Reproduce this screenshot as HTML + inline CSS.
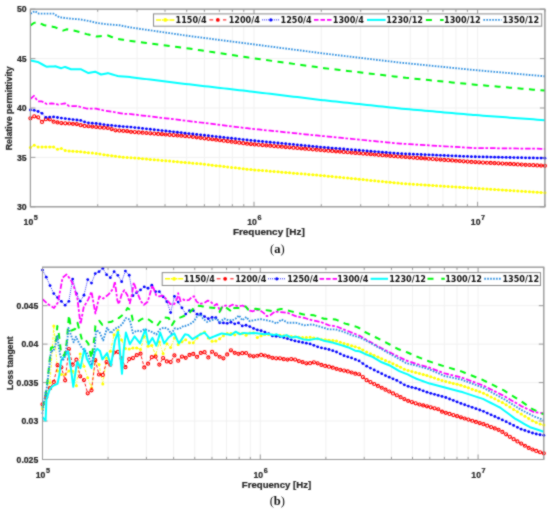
<!DOCTYPE html><html><head><meta charset="utf-8"><style>html,body{margin:0;padding:0;background:#fff;}svg{display:block;}.tl{font-family:"Liberation Sans",Arial,sans-serif;font-weight:bold;font-size:8.7px;fill:#262626;stroke:#262626;stroke-width:0.22px;}.ex{font-size:7.2px;}.lg{font-family:"DejaVu Sans",sans-serif;font-weight:bold;font-size:8.1px;fill:#111;}.al{font-family:"Liberation Sans",Arial,sans-serif;font-weight:bold;font-size:9.6px;fill:#262626;stroke:#262626;stroke-width:0.22px;}.cap{font-family:"Liberation Serif","Times New Roman",serif;font-weight:bold;font-size:12.5px;fill:#111;}</style></head><body>
<svg width="550" height="513" viewBox="0 0 550 513">
<defs><filter id="soft" x="0" y="0" width="550" height="513" filterUnits="userSpaceOnUse" color-interpolation-filters="sRGB"><feConvolveMatrix order="3" kernelMatrix="1 2 1 2 12 2 1 2 1" divisor="24" edgeMode="duplicate"/></filter></defs>
<g filter="url(#soft)">
<rect width="550" height="513" fill="#fff"/>
<path d="M97.71 9.20V206.80M137.08 9.20V206.80M165.02 9.20V206.80M186.69 9.20V206.80M204.39 9.20V206.80M219.36 9.20V206.80M232.33 9.20V206.80M243.77 9.20V206.80M254.00 9.20V206.80M321.31 9.20V206.80M360.68 9.20V206.80M388.62 9.20V206.80M410.29 9.20V206.80M427.99 9.20V206.80M442.96 9.20V206.80M455.93 9.20V206.80M467.37 9.20V206.80M477.60 9.20V206.80M30.40 157.40H544.90M30.40 108.00H544.90M30.40 58.60H544.90" stroke="#f1f1f1" stroke-width="1" fill="none"/>
<path d="M30.40 206.80v-5M30.40 9.20v5M97.71 206.80v-2.6M97.71 9.20v2.6M137.08 206.80v-2.6M137.08 9.20v2.6M165.02 206.80v-2.6M165.02 9.20v2.6M186.69 206.80v-2.6M186.69 9.20v2.6M204.39 206.80v-2.6M204.39 9.20v2.6M219.36 206.80v-2.6M219.36 9.20v2.6M232.33 206.80v-2.6M232.33 9.20v2.6M243.77 206.80v-2.6M243.77 9.20v2.6M254.00 206.80v-5M254.00 9.20v5M321.31 206.80v-2.6M321.31 9.20v2.6M360.68 206.80v-2.6M360.68 9.20v2.6M388.62 206.80v-2.6M388.62 9.20v2.6M410.29 206.80v-2.6M410.29 9.20v2.6M427.99 206.80v-2.6M427.99 9.20v2.6M442.96 206.80v-2.6M442.96 9.20v2.6M455.93 206.80v-2.6M455.93 9.20v2.6M467.37 206.80v-2.6M467.37 9.20v2.6M477.60 206.80v-5M477.60 9.20v5M544.91 206.80v-2.6M544.91 9.20v2.6M30.40 206.80h5M544.90 206.80h-5M30.40 157.40h5M544.90 157.40h-5M30.40 108.00h5M544.90 108.00h-5M30.40 58.60h5M544.90 58.60h-5M30.40 9.20h5M544.90 9.20h-5" stroke="#9a9a9a" stroke-width="1" fill="none"/>
<rect x="30.40" y="9.20" width="514.50" height="197.60" stroke="#9a9a9a" stroke-width="1" fill="none"/>
<g>
<path d="M30.40 147.50 L34.27 145.18 L38.14 146.90 L42.01 146.90 L45.87 146.90 L49.74 146.90 L53.61 147.02 L57.48 149.31 L61.35 148.58 L65.22 150.59 L69.08 151.11 L72.95 151.26 L76.82 151.40 L80.69 151.87 L84.56 152.33 L88.43 152.79 L92.29 153.09 L96.16 153.39 L100.03 154.03 L103.90 154.68 L107.77 155.16 L111.64 155.64 L115.51 156.14 L119.37 156.70 L123.24 157.25 L127.11 157.46 L130.98 157.69 L134.85 158.03 L138.72 158.37 L142.58 158.71 L146.45 159.06 L150.32 159.40 L154.19 159.74 L158.06 160.09 L161.93 160.43 L165.79 160.77 L169.66 161.11 L173.53 161.46 L177.40 161.80 L181.27 162.14 L185.14 162.48 L189.01 162.83 L192.87 163.17 L196.74 163.51 L200.61 163.87 L204.48 164.31 L208.35 164.75 L212.22 165.19 L216.08 165.63 L219.95 166.07 L223.82 166.52 L227.69 166.96 L231.56 167.40 L235.43 167.84 L239.29 168.28 L243.16 168.72 L247.03 169.16 L250.90 169.57 L254.77 169.90 L258.64 170.22 L262.51 170.54 L266.37 170.86 L270.24 171.19 L274.11 171.51 L277.98 171.83 L281.85 172.15 L285.72 172.48 L289.58 172.80 L293.45 173.13 L297.32 173.45 L301.19 173.77 L305.06 174.10 L308.93 174.42 L312.79 174.75 L316.66 175.07 L320.53 175.39 L324.40 175.74 L328.27 176.13 L332.14 176.51 L336.01 176.90 L339.87 177.29 L343.74 177.67 L347.61 178.06 L351.48 178.45 L355.35 178.83 L359.22 179.22 L363.08 179.61 L366.95 180.00 L370.82 180.38 L374.69 180.77 L378.56 181.16 L382.43 181.54 L386.29 181.93 L390.16 182.32 L394.03 182.70 L397.90 183.09 L401.77 183.41 L405.64 183.66 L409.51 183.91 L413.37 184.16 L417.24 184.41 L421.11 184.66 L424.98 184.91 L428.85 185.16 L432.72 185.41 L436.58 185.66 L440.45 185.90 L444.32 186.15 L448.19 186.40 L452.06 186.65 L455.93 186.90 L459.79 187.15 L463.66 187.40 L467.53 187.65 L471.40 187.90 L475.27 188.15 L479.14 188.40 L483.01 188.66 L486.87 188.91 L490.74 189.16 L494.61 189.42 L498.48 189.67 L502.35 189.92 L506.22 190.18 L510.08 190.43 L513.95 190.68 L517.82 190.94 L521.69 191.19 L525.56 191.45 L529.43 191.70 L533.29 191.95 L537.16 192.21 L541.03 192.46 L544.90 192.70" stroke="#ffff00" stroke-width="0.9" fill="none" stroke-linejoin="round" stroke-dasharray="3 1.5 1 1.5"/>
<g fill="#ffff00"><circle cx="30.40" cy="147.50" r="1.5"/><circle cx="34.27" cy="145.18" r="1.5"/><circle cx="38.14" cy="146.90" r="1.5"/><circle cx="42.01" cy="146.90" r="1.5"/><circle cx="45.87" cy="146.90" r="1.5"/><circle cx="49.74" cy="146.90" r="1.5"/><circle cx="53.61" cy="147.02" r="1.5"/><circle cx="57.48" cy="149.31" r="1.5"/><circle cx="61.35" cy="148.58" r="1.5"/><circle cx="65.22" cy="150.59" r="1.5"/><circle cx="69.08" cy="151.11" r="1.5"/><circle cx="72.95" cy="151.26" r="1.5"/><circle cx="76.82" cy="151.40" r="1.5"/><circle cx="80.69" cy="151.87" r="1.5"/><circle cx="84.56" cy="152.33" r="1.5"/><circle cx="88.43" cy="152.79" r="1.5"/><circle cx="92.29" cy="153.09" r="1.5"/><circle cx="96.16" cy="153.39" r="1.5"/><circle cx="100.03" cy="154.03" r="1.5"/><circle cx="103.90" cy="154.68" r="1.5"/><circle cx="107.77" cy="155.16" r="1.5"/><circle cx="111.64" cy="155.64" r="1.5"/><circle cx="115.51" cy="156.14" r="1.5"/><circle cx="119.37" cy="156.70" r="1.5"/><circle cx="123.24" cy="157.25" r="1.5"/><circle cx="127.11" cy="157.46" r="1.5"/><circle cx="130.98" cy="157.69" r="1.5"/><circle cx="134.85" cy="158.03" r="1.5"/><circle cx="138.72" cy="158.37" r="1.5"/><circle cx="142.58" cy="158.71" r="1.5"/><circle cx="146.45" cy="159.06" r="1.5"/><circle cx="150.32" cy="159.40" r="1.5"/><circle cx="154.19" cy="159.74" r="1.5"/><circle cx="158.06" cy="160.09" r="1.5"/><circle cx="161.93" cy="160.43" r="1.5"/><circle cx="165.79" cy="160.77" r="1.5"/><circle cx="169.66" cy="161.11" r="1.5"/><circle cx="173.53" cy="161.46" r="1.5"/><circle cx="177.40" cy="161.80" r="1.5"/><circle cx="181.27" cy="162.14" r="1.5"/><circle cx="185.14" cy="162.48" r="1.5"/><circle cx="189.01" cy="162.83" r="1.5"/><circle cx="192.87" cy="163.17" r="1.5"/><circle cx="196.74" cy="163.51" r="1.5"/><circle cx="200.61" cy="163.87" r="1.5"/><circle cx="204.48" cy="164.31" r="1.5"/><circle cx="208.35" cy="164.75" r="1.5"/><circle cx="212.22" cy="165.19" r="1.5"/><circle cx="216.08" cy="165.63" r="1.5"/><circle cx="219.95" cy="166.07" r="1.5"/><circle cx="223.82" cy="166.52" r="1.5"/><circle cx="227.69" cy="166.96" r="1.5"/><circle cx="231.56" cy="167.40" r="1.5"/><circle cx="235.43" cy="167.84" r="1.5"/><circle cx="239.29" cy="168.28" r="1.5"/><circle cx="243.16" cy="168.72" r="1.5"/><circle cx="247.03" cy="169.16" r="1.5"/><circle cx="250.90" cy="169.57" r="1.5"/><circle cx="254.77" cy="169.90" r="1.5"/><circle cx="258.64" cy="170.22" r="1.5"/><circle cx="262.51" cy="170.54" r="1.5"/><circle cx="266.37" cy="170.86" r="1.5"/><circle cx="270.24" cy="171.19" r="1.5"/><circle cx="274.11" cy="171.51" r="1.5"/><circle cx="277.98" cy="171.83" r="1.5"/><circle cx="281.85" cy="172.15" r="1.5"/><circle cx="285.72" cy="172.48" r="1.5"/><circle cx="289.58" cy="172.80" r="1.5"/><circle cx="293.45" cy="173.13" r="1.5"/><circle cx="297.32" cy="173.45" r="1.5"/><circle cx="301.19" cy="173.77" r="1.5"/><circle cx="305.06" cy="174.10" r="1.5"/><circle cx="308.93" cy="174.42" r="1.5"/><circle cx="312.79" cy="174.75" r="1.5"/><circle cx="316.66" cy="175.07" r="1.5"/><circle cx="320.53" cy="175.39" r="1.5"/><circle cx="324.40" cy="175.74" r="1.5"/><circle cx="328.27" cy="176.13" r="1.5"/><circle cx="332.14" cy="176.51" r="1.5"/><circle cx="336.01" cy="176.90" r="1.5"/><circle cx="339.87" cy="177.29" r="1.5"/><circle cx="343.74" cy="177.67" r="1.5"/><circle cx="347.61" cy="178.06" r="1.5"/><circle cx="351.48" cy="178.45" r="1.5"/><circle cx="355.35" cy="178.83" r="1.5"/><circle cx="359.22" cy="179.22" r="1.5"/><circle cx="363.08" cy="179.61" r="1.5"/><circle cx="366.95" cy="180.00" r="1.5"/><circle cx="370.82" cy="180.38" r="1.5"/><circle cx="374.69" cy="180.77" r="1.5"/><circle cx="378.56" cy="181.16" r="1.5"/><circle cx="382.43" cy="181.54" r="1.5"/><circle cx="386.29" cy="181.93" r="1.5"/><circle cx="390.16" cy="182.32" r="1.5"/><circle cx="394.03" cy="182.70" r="1.5"/><circle cx="397.90" cy="183.09" r="1.5"/><circle cx="401.77" cy="183.41" r="1.5"/><circle cx="405.64" cy="183.66" r="1.5"/><circle cx="409.51" cy="183.91" r="1.5"/><circle cx="413.37" cy="184.16" r="1.5"/><circle cx="417.24" cy="184.41" r="1.5"/><circle cx="421.11" cy="184.66" r="1.5"/><circle cx="424.98" cy="184.91" r="1.5"/><circle cx="428.85" cy="185.16" r="1.5"/><circle cx="432.72" cy="185.41" r="1.5"/><circle cx="436.58" cy="185.66" r="1.5"/><circle cx="440.45" cy="185.90" r="1.5"/><circle cx="444.32" cy="186.15" r="1.5"/><circle cx="448.19" cy="186.40" r="1.5"/><circle cx="452.06" cy="186.65" r="1.5"/><circle cx="455.93" cy="186.90" r="1.5"/><circle cx="459.79" cy="187.15" r="1.5"/><circle cx="463.66" cy="187.40" r="1.5"/><circle cx="467.53" cy="187.65" r="1.5"/><circle cx="471.40" cy="187.90" r="1.5"/><circle cx="475.27" cy="188.15" r="1.5"/><circle cx="479.14" cy="188.40" r="1.5"/><circle cx="483.01" cy="188.66" r="1.5"/><circle cx="486.87" cy="188.91" r="1.5"/><circle cx="490.74" cy="189.16" r="1.5"/><circle cx="494.61" cy="189.42" r="1.5"/><circle cx="498.48" cy="189.67" r="1.5"/><circle cx="502.35" cy="189.92" r="1.5"/><circle cx="506.22" cy="190.18" r="1.5"/><circle cx="510.08" cy="190.43" r="1.5"/><circle cx="513.95" cy="190.68" r="1.5"/><circle cx="517.82" cy="190.94" r="1.5"/><circle cx="521.69" cy="191.19" r="1.5"/><circle cx="525.56" cy="191.45" r="1.5"/><circle cx="529.43" cy="191.70" r="1.5"/><circle cx="533.29" cy="191.95" r="1.5"/><circle cx="537.16" cy="192.21" r="1.5"/><circle cx="541.03" cy="192.46" r="1.5"/><circle cx="544.90" cy="192.70" r="1.5"/></g>
<path d="M30.40 118.30 L34.27 116.36 L38.14 117.36 L42.01 121.97 L45.87 119.20 L49.74 119.35 L53.61 121.64 L57.48 122.38 L61.35 123.11 L65.22 123.31 L69.08 123.51 L72.95 123.80 L76.82 124.11 L80.69 125.17 L84.56 125.88 L88.43 126.24 L92.29 126.59 L96.16 126.99 L100.03 127.38 L103.90 127.68 L107.77 127.98 L111.64 129.12 L115.51 130.31 L119.37 130.58 L123.24 130.78 L127.11 131.19 L130.98 131.78 L134.85 132.08 L138.72 132.39 L142.58 132.69 L146.45 132.99 L150.32 133.30 L154.19 133.60 L158.06 133.91 L161.93 134.21 L165.79 134.51 L169.66 134.82 L173.53 135.12 L177.40 135.43 L181.27 135.73 L185.14 136.04 L189.01 136.36 L192.87 136.85 L196.74 137.33 L200.61 137.82 L204.48 138.30 L208.35 138.78 L212.22 139.27 L216.08 139.75 L219.95 140.24 L223.82 140.72 L227.69 141.21 L231.56 141.69 L235.43 142.18 L239.29 142.66 L243.16 143.14 L247.03 143.63 L250.90 144.08 L254.77 144.40 L258.64 144.73 L262.51 145.06 L266.37 145.39 L270.24 145.72 L274.11 146.05 L277.98 146.38 L281.85 146.70 L285.72 147.03 L289.58 147.36 L293.45 147.69 L297.32 148.02 L301.19 148.35 L305.06 148.68 L308.93 149.00 L312.79 149.33 L316.66 149.66 L320.53 149.99 L324.40 150.32 L328.27 150.64 L332.14 150.96 L336.01 151.28 L339.87 151.60 L343.74 151.92 L347.61 152.25 L351.48 152.57 L355.35 152.89 L359.22 153.21 L363.08 153.53 L366.95 153.85 L370.82 154.17 L374.69 154.50 L378.56 154.82 L382.43 155.14 L386.29 155.46 L390.16 155.78 L394.03 156.10 L397.90 156.43 L401.77 156.73 L405.64 157.02 L409.51 157.30 L413.37 157.59 L417.24 157.88 L421.11 158.16 L424.98 158.45 L428.85 158.73 L432.72 159.02 L436.58 159.31 L440.45 159.59 L444.32 159.88 L448.19 160.16 L452.06 160.45 L455.93 160.74 L459.79 161.02 L463.66 161.31 L467.53 161.60 L471.40 161.88 L475.27 162.12 L479.14 162.33 L483.01 162.53 L486.87 162.74 L490.74 162.94 L494.61 163.15 L498.48 163.35 L502.35 163.56 L506.22 163.76 L510.08 163.97 L513.95 164.17 L517.82 164.38 L521.69 164.58 L525.56 164.79 L529.43 164.99 L533.29 165.20 L537.16 165.40 L541.03 165.61 L544.90 165.80" stroke="#ff0000" stroke-width="0.9" fill="none" stroke-linejoin="round" stroke-dasharray="3 2"/>
<g fill="none" stroke="#ff0000" stroke-width="1.1"><circle cx="30.40" cy="118.30" r="1.55"/><circle cx="34.27" cy="116.36" r="1.55"/><circle cx="38.14" cy="117.36" r="1.55"/><circle cx="42.01" cy="121.97" r="1.55"/><circle cx="45.87" cy="119.20" r="1.55"/><circle cx="49.74" cy="119.35" r="1.55"/><circle cx="53.61" cy="121.64" r="1.55"/><circle cx="57.48" cy="122.38" r="1.55"/><circle cx="61.35" cy="123.11" r="1.55"/><circle cx="65.22" cy="123.31" r="1.55"/><circle cx="69.08" cy="123.51" r="1.55"/><circle cx="72.95" cy="123.80" r="1.55"/><circle cx="76.82" cy="124.11" r="1.55"/><circle cx="80.69" cy="125.17" r="1.55"/><circle cx="84.56" cy="125.88" r="1.55"/><circle cx="88.43" cy="126.24" r="1.55"/><circle cx="92.29" cy="126.59" r="1.55"/><circle cx="96.16" cy="126.99" r="1.55"/><circle cx="100.03" cy="127.38" r="1.55"/><circle cx="103.90" cy="127.68" r="1.55"/><circle cx="107.77" cy="127.98" r="1.55"/><circle cx="111.64" cy="129.12" r="1.55"/><circle cx="115.51" cy="130.31" r="1.55"/><circle cx="119.37" cy="130.58" r="1.55"/><circle cx="123.24" cy="130.78" r="1.55"/><circle cx="127.11" cy="131.19" r="1.55"/><circle cx="130.98" cy="131.78" r="1.55"/><circle cx="134.85" cy="132.08" r="1.55"/><circle cx="138.72" cy="132.39" r="1.55"/><circle cx="142.58" cy="132.69" r="1.55"/><circle cx="146.45" cy="132.99" r="1.55"/><circle cx="150.32" cy="133.30" r="1.55"/><circle cx="154.19" cy="133.60" r="1.55"/><circle cx="158.06" cy="133.91" r="1.55"/><circle cx="161.93" cy="134.21" r="1.55"/><circle cx="165.79" cy="134.51" r="1.55"/><circle cx="169.66" cy="134.82" r="1.55"/><circle cx="173.53" cy="135.12" r="1.55"/><circle cx="177.40" cy="135.43" r="1.55"/><circle cx="181.27" cy="135.73" r="1.55"/><circle cx="185.14" cy="136.04" r="1.55"/><circle cx="189.01" cy="136.36" r="1.55"/><circle cx="192.87" cy="136.85" r="1.55"/><circle cx="196.74" cy="137.33" r="1.55"/><circle cx="200.61" cy="137.82" r="1.55"/><circle cx="204.48" cy="138.30" r="1.55"/><circle cx="208.35" cy="138.78" r="1.55"/><circle cx="212.22" cy="139.27" r="1.55"/><circle cx="216.08" cy="139.75" r="1.55"/><circle cx="219.95" cy="140.24" r="1.55"/><circle cx="223.82" cy="140.72" r="1.55"/><circle cx="227.69" cy="141.21" r="1.55"/><circle cx="231.56" cy="141.69" r="1.55"/><circle cx="235.43" cy="142.18" r="1.55"/><circle cx="239.29" cy="142.66" r="1.55"/><circle cx="243.16" cy="143.14" r="1.55"/><circle cx="247.03" cy="143.63" r="1.55"/><circle cx="250.90" cy="144.08" r="1.55"/><circle cx="254.77" cy="144.40" r="1.55"/><circle cx="258.64" cy="144.73" r="1.55"/><circle cx="262.51" cy="145.06" r="1.55"/><circle cx="266.37" cy="145.39" r="1.55"/><circle cx="270.24" cy="145.72" r="1.55"/><circle cx="274.11" cy="146.05" r="1.55"/><circle cx="277.98" cy="146.38" r="1.55"/><circle cx="281.85" cy="146.70" r="1.55"/><circle cx="285.72" cy="147.03" r="1.55"/><circle cx="289.58" cy="147.36" r="1.55"/><circle cx="293.45" cy="147.69" r="1.55"/><circle cx="297.32" cy="148.02" r="1.55"/><circle cx="301.19" cy="148.35" r="1.55"/><circle cx="305.06" cy="148.68" r="1.55"/><circle cx="308.93" cy="149.00" r="1.55"/><circle cx="312.79" cy="149.33" r="1.55"/><circle cx="316.66" cy="149.66" r="1.55"/><circle cx="320.53" cy="149.99" r="1.55"/><circle cx="324.40" cy="150.32" r="1.55"/><circle cx="328.27" cy="150.64" r="1.55"/><circle cx="332.14" cy="150.96" r="1.55"/><circle cx="336.01" cy="151.28" r="1.55"/><circle cx="339.87" cy="151.60" r="1.55"/><circle cx="343.74" cy="151.92" r="1.55"/><circle cx="347.61" cy="152.25" r="1.55"/><circle cx="351.48" cy="152.57" r="1.55"/><circle cx="355.35" cy="152.89" r="1.55"/><circle cx="359.22" cy="153.21" r="1.55"/><circle cx="363.08" cy="153.53" r="1.55"/><circle cx="366.95" cy="153.85" r="1.55"/><circle cx="370.82" cy="154.17" r="1.55"/><circle cx="374.69" cy="154.50" r="1.55"/><circle cx="378.56" cy="154.82" r="1.55"/><circle cx="382.43" cy="155.14" r="1.55"/><circle cx="386.29" cy="155.46" r="1.55"/><circle cx="390.16" cy="155.78" r="1.55"/><circle cx="394.03" cy="156.10" r="1.55"/><circle cx="397.90" cy="156.43" r="1.55"/><circle cx="401.77" cy="156.73" r="1.55"/><circle cx="405.64" cy="157.02" r="1.55"/><circle cx="409.51" cy="157.30" r="1.55"/><circle cx="413.37" cy="157.59" r="1.55"/><circle cx="417.24" cy="157.88" r="1.55"/><circle cx="421.11" cy="158.16" r="1.55"/><circle cx="424.98" cy="158.45" r="1.55"/><circle cx="428.85" cy="158.73" r="1.55"/><circle cx="432.72" cy="159.02" r="1.55"/><circle cx="436.58" cy="159.31" r="1.55"/><circle cx="440.45" cy="159.59" r="1.55"/><circle cx="444.32" cy="159.88" r="1.55"/><circle cx="448.19" cy="160.16" r="1.55"/><circle cx="452.06" cy="160.45" r="1.55"/><circle cx="455.93" cy="160.74" r="1.55"/><circle cx="459.79" cy="161.02" r="1.55"/><circle cx="463.66" cy="161.31" r="1.55"/><circle cx="467.53" cy="161.60" r="1.55"/><circle cx="471.40" cy="161.88" r="1.55"/><circle cx="475.27" cy="162.12" r="1.55"/><circle cx="479.14" cy="162.33" r="1.55"/><circle cx="483.01" cy="162.53" r="1.55"/><circle cx="486.87" cy="162.74" r="1.55"/><circle cx="490.74" cy="162.94" r="1.55"/><circle cx="494.61" cy="163.15" r="1.55"/><circle cx="498.48" cy="163.35" r="1.55"/><circle cx="502.35" cy="163.56" r="1.55"/><circle cx="506.22" cy="163.76" r="1.55"/><circle cx="510.08" cy="163.97" r="1.55"/><circle cx="513.95" cy="164.17" r="1.55"/><circle cx="517.82" cy="164.38" r="1.55"/><circle cx="521.69" cy="164.58" r="1.55"/><circle cx="525.56" cy="164.79" r="1.55"/><circle cx="529.43" cy="164.99" r="1.55"/><circle cx="533.29" cy="165.20" r="1.55"/><circle cx="537.16" cy="165.40" r="1.55"/><circle cx="541.03" cy="165.61" r="1.55"/><circle cx="544.90" cy="165.80" r="1.55"/></g>
<path d="M30.40 110.00 L34.27 110.36 L38.14 111.49 L42.01 113.34 L45.87 117.29 L49.74 117.09 L53.61 116.93 L57.48 117.49 L61.35 118.06 L65.22 118.59 L69.08 119.10 L72.95 119.61 L76.82 120.00 L80.69 120.40 L84.56 121.93 L88.43 122.86 L92.29 123.17 L96.16 123.49 L100.03 124.01 L103.90 124.54 L107.77 125.07 L111.64 125.47 L115.51 125.87 L119.37 126.27 L123.24 126.54 L127.11 126.80 L130.98 127.11 L134.85 127.54 L138.72 127.97 L142.58 128.40 L146.45 128.83 L150.32 129.26 L154.19 129.69 L158.06 130.12 L161.93 130.55 L165.79 130.98 L169.66 131.41 L173.53 131.84 L177.40 132.27 L181.27 132.70 L185.14 133.13 L189.01 133.56 L192.87 133.98 L196.74 134.41 L200.61 134.84 L204.48 135.27 L208.35 135.69 L212.22 136.12 L216.08 136.55 L219.95 136.98 L223.82 137.41 L227.69 137.83 L231.56 138.26 L235.43 138.69 L239.29 139.12 L243.16 139.54 L247.03 139.97 L250.90 140.39 L254.77 140.76 L258.64 141.13 L262.51 141.50 L266.37 141.87 L270.24 142.24 L274.11 142.61 L277.98 142.98 L281.85 143.35 L285.72 143.72 L289.58 144.10 L293.45 144.47 L297.32 144.84 L301.19 145.21 L305.06 145.58 L308.93 145.95 L312.79 146.32 L316.66 146.69 L320.53 147.06 L324.40 147.41 L328.27 147.73 L332.14 148.05 L336.01 148.36 L339.87 148.68 L343.74 149.00 L347.61 149.31 L351.48 149.63 L355.35 149.95 L359.22 150.26 L363.08 150.58 L366.95 150.90 L370.82 151.21 L374.69 151.53 L378.56 151.85 L382.43 152.16 L386.29 152.48 L390.16 152.80 L394.03 153.11 L397.90 153.43 L401.77 153.68 L405.64 153.84 L409.51 154.00 L413.37 154.17 L417.24 154.33 L421.11 154.50 L424.98 154.66 L428.85 154.83 L432.72 154.99 L436.58 155.15 L440.45 155.32 L444.32 155.48 L448.19 155.65 L452.06 155.81 L455.93 155.97 L459.79 156.14 L463.66 156.30 L467.53 156.47 L471.40 156.63 L475.27 156.75 L479.14 156.83 L483.01 156.91 L486.87 156.99 L490.74 157.07 L494.61 157.15 L498.48 157.23 L502.35 157.31 L506.22 157.39 L510.08 157.48 L513.95 157.56 L517.82 157.64 L521.69 157.72 L525.56 157.80 L529.43 157.88 L533.29 157.96 L537.16 158.04 L541.03 158.12 L544.90 158.20" stroke="#0000ff" stroke-width="0.8" fill="none" stroke-linejoin="round" stroke-dasharray="1 1"/>
<g fill="#0000ff"><circle cx="30.40" cy="110.00" r="1.4"/><circle cx="34.27" cy="110.36" r="1.4"/><circle cx="38.14" cy="111.49" r="1.4"/><circle cx="42.01" cy="113.34" r="1.4"/><circle cx="45.87" cy="117.29" r="1.4"/><circle cx="49.74" cy="117.09" r="1.4"/><circle cx="53.61" cy="116.93" r="1.4"/><circle cx="57.48" cy="117.49" r="1.4"/><circle cx="61.35" cy="118.06" r="1.4"/><circle cx="65.22" cy="118.59" r="1.4"/><circle cx="69.08" cy="119.10" r="1.4"/><circle cx="72.95" cy="119.61" r="1.4"/><circle cx="76.82" cy="120.00" r="1.4"/><circle cx="80.69" cy="120.40" r="1.4"/><circle cx="84.56" cy="121.93" r="1.4"/><circle cx="88.43" cy="122.86" r="1.4"/><circle cx="92.29" cy="123.17" r="1.4"/><circle cx="96.16" cy="123.49" r="1.4"/><circle cx="100.03" cy="124.01" r="1.4"/><circle cx="103.90" cy="124.54" r="1.4"/><circle cx="107.77" cy="125.07" r="1.4"/><circle cx="111.64" cy="125.47" r="1.4"/><circle cx="115.51" cy="125.87" r="1.4"/><circle cx="119.37" cy="126.27" r="1.4"/><circle cx="123.24" cy="126.54" r="1.4"/><circle cx="127.11" cy="126.80" r="1.4"/><circle cx="130.98" cy="127.11" r="1.4"/><circle cx="134.85" cy="127.54" r="1.4"/><circle cx="138.72" cy="127.97" r="1.4"/><circle cx="142.58" cy="128.40" r="1.4"/><circle cx="146.45" cy="128.83" r="1.4"/><circle cx="150.32" cy="129.26" r="1.4"/><circle cx="154.19" cy="129.69" r="1.4"/><circle cx="158.06" cy="130.12" r="1.4"/><circle cx="161.93" cy="130.55" r="1.4"/><circle cx="165.79" cy="130.98" r="1.4"/><circle cx="169.66" cy="131.41" r="1.4"/><circle cx="173.53" cy="131.84" r="1.4"/><circle cx="177.40" cy="132.27" r="1.4"/><circle cx="181.27" cy="132.70" r="1.4"/><circle cx="185.14" cy="133.13" r="1.4"/><circle cx="189.01" cy="133.56" r="1.4"/><circle cx="192.87" cy="133.98" r="1.4"/><circle cx="196.74" cy="134.41" r="1.4"/><circle cx="200.61" cy="134.84" r="1.4"/><circle cx="204.48" cy="135.27" r="1.4"/><circle cx="208.35" cy="135.69" r="1.4"/><circle cx="212.22" cy="136.12" r="1.4"/><circle cx="216.08" cy="136.55" r="1.4"/><circle cx="219.95" cy="136.98" r="1.4"/><circle cx="223.82" cy="137.41" r="1.4"/><circle cx="227.69" cy="137.83" r="1.4"/><circle cx="231.56" cy="138.26" r="1.4"/><circle cx="235.43" cy="138.69" r="1.4"/><circle cx="239.29" cy="139.12" r="1.4"/><circle cx="243.16" cy="139.54" r="1.4"/><circle cx="247.03" cy="139.97" r="1.4"/><circle cx="250.90" cy="140.39" r="1.4"/><circle cx="254.77" cy="140.76" r="1.4"/><circle cx="258.64" cy="141.13" r="1.4"/><circle cx="262.51" cy="141.50" r="1.4"/><circle cx="266.37" cy="141.87" r="1.4"/><circle cx="270.24" cy="142.24" r="1.4"/><circle cx="274.11" cy="142.61" r="1.4"/><circle cx="277.98" cy="142.98" r="1.4"/><circle cx="281.85" cy="143.35" r="1.4"/><circle cx="285.72" cy="143.72" r="1.4"/><circle cx="289.58" cy="144.10" r="1.4"/><circle cx="293.45" cy="144.47" r="1.4"/><circle cx="297.32" cy="144.84" r="1.4"/><circle cx="301.19" cy="145.21" r="1.4"/><circle cx="305.06" cy="145.58" r="1.4"/><circle cx="308.93" cy="145.95" r="1.4"/><circle cx="312.79" cy="146.32" r="1.4"/><circle cx="316.66" cy="146.69" r="1.4"/><circle cx="320.53" cy="147.06" r="1.4"/><circle cx="324.40" cy="147.41" r="1.4"/><circle cx="328.27" cy="147.73" r="1.4"/><circle cx="332.14" cy="148.05" r="1.4"/><circle cx="336.01" cy="148.36" r="1.4"/><circle cx="339.87" cy="148.68" r="1.4"/><circle cx="343.74" cy="149.00" r="1.4"/><circle cx="347.61" cy="149.31" r="1.4"/><circle cx="351.48" cy="149.63" r="1.4"/><circle cx="355.35" cy="149.95" r="1.4"/><circle cx="359.22" cy="150.26" r="1.4"/><circle cx="363.08" cy="150.58" r="1.4"/><circle cx="366.95" cy="150.90" r="1.4"/><circle cx="370.82" cy="151.21" r="1.4"/><circle cx="374.69" cy="151.53" r="1.4"/><circle cx="378.56" cy="151.85" r="1.4"/><circle cx="382.43" cy="152.16" r="1.4"/><circle cx="386.29" cy="152.48" r="1.4"/><circle cx="390.16" cy="152.80" r="1.4"/><circle cx="394.03" cy="153.11" r="1.4"/><circle cx="397.90" cy="153.43" r="1.4"/><circle cx="401.77" cy="153.68" r="1.4"/><circle cx="405.64" cy="153.84" r="1.4"/><circle cx="409.51" cy="154.00" r="1.4"/><circle cx="413.37" cy="154.17" r="1.4"/><circle cx="417.24" cy="154.33" r="1.4"/><circle cx="421.11" cy="154.50" r="1.4"/><circle cx="424.98" cy="154.66" r="1.4"/><circle cx="428.85" cy="154.83" r="1.4"/><circle cx="432.72" cy="154.99" r="1.4"/><circle cx="436.58" cy="155.15" r="1.4"/><circle cx="440.45" cy="155.32" r="1.4"/><circle cx="444.32" cy="155.48" r="1.4"/><circle cx="448.19" cy="155.65" r="1.4"/><circle cx="452.06" cy="155.81" r="1.4"/><circle cx="455.93" cy="155.97" r="1.4"/><circle cx="459.79" cy="156.14" r="1.4"/><circle cx="463.66" cy="156.30" r="1.4"/><circle cx="467.53" cy="156.47" r="1.4"/><circle cx="471.40" cy="156.63" r="1.4"/><circle cx="475.27" cy="156.75" r="1.4"/><circle cx="479.14" cy="156.83" r="1.4"/><circle cx="483.01" cy="156.91" r="1.4"/><circle cx="486.87" cy="156.99" r="1.4"/><circle cx="490.74" cy="157.07" r="1.4"/><circle cx="494.61" cy="157.15" r="1.4"/><circle cx="498.48" cy="157.23" r="1.4"/><circle cx="502.35" cy="157.31" r="1.4"/><circle cx="506.22" cy="157.39" r="1.4"/><circle cx="510.08" cy="157.48" r="1.4"/><circle cx="513.95" cy="157.56" r="1.4"/><circle cx="517.82" cy="157.64" r="1.4"/><circle cx="521.69" cy="157.72" r="1.4"/><circle cx="525.56" cy="157.80" r="1.4"/><circle cx="529.43" cy="157.88" r="1.4"/><circle cx="533.29" cy="157.96" r="1.4"/><circle cx="537.16" cy="158.04" r="1.4"/><circle cx="541.03" cy="158.12" r="1.4"/><circle cx="544.90" cy="158.20" r="1.4"/></g>
<path d="M30.40 98.80 L30.50 98.80 L33.90 95.80 L34.27 96.32 L37.80 101.30 L38.14 101.30 L41.70 101.30 L42.01 101.47 L45.87 103.60 L46.60 104.00 L49.74 103.54 L51.40 103.30 L53.61 103.72 L57.48 104.45 L58.30 104.60 L61.35 104.01 L65.00 103.30 L65.22 103.45 L69.00 106.00 L69.08 106.00 L72.95 106.00 L76.80 106.00 L76.82 106.01 L80.69 107.00 L84.56 108.00 L86.50 108.50 L88.43 108.50 L92.29 108.50 L95.30 108.50 L96.16 108.70 L100.03 109.59 L103.90 110.48 L104.00 110.50 L107.77 111.08 L111.64 111.67 L113.80 112.00 L115.51 112.31 L119.37 113.02 L123.24 113.73 L123.60 113.80 L127.11 113.91 L130.00 114.00 L130.98 114.12 L134.85 114.58 L138.72 115.04 L142.58 115.51 L146.45 115.97 L150.32 116.43 L154.19 116.89 L158.06 117.36 L161.93 117.82 L165.79 118.28 L169.66 118.75 L173.53 119.21 L177.40 119.67 L181.27 120.13 L185.14 120.60 L188.50 121.00 L189.01 121.06 L192.87 121.54 L196.74 122.02 L200.61 122.50 L204.48 122.97 L208.35 123.45 L212.22 123.93 L216.08 124.41 L219.95 124.89 L223.82 125.36 L227.69 125.84 L231.56 126.32 L235.43 126.80 L239.29 127.28 L243.16 127.76 L247.03 128.23 L250.00 128.60 L250.90 128.69 L254.77 129.09 L258.64 129.49 L262.51 129.88 L266.37 130.28 L270.24 130.68 L274.11 131.08 L277.98 131.47 L281.85 131.87 L285.72 132.27 L289.58 132.67 L293.45 133.06 L297.32 133.46 L301.19 133.86 L305.06 134.26 L308.93 134.65 L312.79 135.05 L316.66 135.45 L320.53 135.85 L323.00 136.10 L324.40 136.24 L328.27 136.61 L332.14 136.99 L336.01 137.37 L339.87 137.74 L343.74 138.12 L347.61 138.50 L351.48 138.87 L355.35 139.25 L359.22 139.63 L363.08 140.00 L366.95 140.38 L370.82 140.76 L374.69 141.13 L378.56 141.51 L382.43 141.89 L386.29 142.27 L390.16 142.64 L394.03 143.02 L397.90 143.40 L400.00 143.60 L401.77 143.71 L405.64 143.94 L409.51 144.17 L413.37 144.41 L417.24 144.64 L421.11 144.87 L424.98 145.11 L428.85 145.34 L432.72 145.57 L436.58 145.81 L440.45 146.04 L444.32 146.27 L448.19 146.50 L452.06 146.74 L455.93 146.97 L459.79 147.20 L463.66 147.44 L467.53 147.67 L471.40 147.90 L473.00 148.00 L475.27 148.03 L479.14 148.07 L483.01 148.11 L486.87 148.15 L490.74 148.20 L494.61 148.24 L498.48 148.28 L502.35 148.33 L506.22 148.37 L510.08 148.41 L513.95 148.46 L517.82 148.50 L521.69 148.54 L525.56 148.59 L529.43 148.63 L533.29 148.67 L537.16 148.72 L541.03 148.76 L544.70 148.80 L544.90 148.80" stroke="#ff00ff" stroke-width="1.75" fill="none" stroke-linejoin="round" stroke-dasharray="5.5 1.6 2.7 1.9"/>
<path d="M30.40 60.40 L30.50 60.40 L34.27 61.23 L37.80 62.00 L38.14 62.18 L42.01 64.25 L45.87 66.31 L46.60 66.70 L49.74 66.56 L53.61 66.38 L55.30 66.30 L57.48 67.00 L61.20 68.20 L61.35 68.15 L65.00 66.90 L65.22 66.98 L69.08 68.47 L71.00 69.20 L72.95 69.20 L76.82 69.20 L80.69 69.20 L80.70 69.20 L84.56 71.13 L88.43 73.06 L88.50 73.10 L92.29 72.32 L95.30 71.70 L96.16 72.12 L100.03 74.02 L101.00 74.50 L103.90 73.92 L107.77 73.15 L108.00 73.10 L111.64 74.19 L115.51 75.34 L117.70 76.00 L119.37 76.15 L123.24 76.50 L127.11 76.84 L130.00 77.10 L130.98 77.22 L134.85 77.70 L138.72 78.17 L142.58 78.65 L146.45 79.12 L150.32 79.60 L154.19 80.08 L158.06 80.55 L161.93 81.03 L165.79 81.51 L169.66 81.98 L173.53 82.46 L177.40 82.93 L181.27 83.41 L185.14 83.89 L188.50 84.30 L189.01 84.36 L192.87 84.80 L196.74 85.25 L200.61 85.70 L204.48 86.14 L208.35 86.59 L212.22 87.04 L216.08 87.48 L219.95 87.93 L223.82 88.38 L227.69 88.82 L231.56 89.27 L235.43 89.72 L239.29 90.16 L243.16 90.61 L247.03 91.06 L250.00 91.40 L250.90 91.51 L254.77 91.97 L258.64 92.44 L262.51 92.91 L266.37 93.37 L270.24 93.84 L274.11 94.31 L277.98 94.77 L281.85 95.24 L285.72 95.71 L289.58 96.17 L293.45 96.64 L297.32 97.10 L301.19 97.57 L305.06 98.04 L308.93 98.50 L312.79 98.97 L316.66 99.44 L320.53 99.90 L323.00 100.20 L324.40 100.35 L328.27 100.77 L332.14 101.18 L336.01 101.60 L339.87 102.02 L343.74 102.44 L347.61 102.85 L351.48 103.27 L355.35 103.69 L359.22 104.10 L363.08 104.52 L366.95 104.94 L370.82 105.35 L374.69 105.77 L378.56 106.19 L382.43 106.61 L386.29 107.02 L390.16 107.44 L394.03 107.86 L397.90 108.27 L400.00 108.50 L401.77 108.66 L405.64 108.99 L409.51 109.33 L413.37 109.67 L417.24 110.01 L421.11 110.35 L424.98 110.69 L428.85 111.03 L432.72 111.37 L436.58 111.71 L440.45 112.05 L444.32 112.39 L448.19 112.72 L452.06 113.06 L455.93 113.40 L459.79 113.74 L463.66 114.08 L467.53 114.42 L471.40 114.76 L473.00 114.90 L475.27 115.07 L479.14 115.35 L483.01 115.64 L486.87 115.93 L490.74 116.21 L494.61 116.50 L498.48 116.78 L502.35 117.07 L506.22 117.36 L510.08 117.64 L513.95 117.93 L517.82 118.21 L521.69 118.50 L525.56 118.79 L529.43 119.07 L533.29 119.36 L537.16 119.64 L541.03 119.93 L544.70 120.20 L544.90 120.20" stroke="#00ffff" stroke-width="2.0" fill="none" stroke-linejoin="round"/>
<path d="M30.40 25.30 L30.50 25.30 L33.90 23.00 L34.27 22.90 L37.50 22.00 L38.14 22.31 L42.01 24.22 L43.60 25.00 L45.87 25.45 L49.74 26.21 L53.61 26.97 L55.30 27.30 L57.48 28.23 L61.35 29.89 L63.00 30.60 L65.22 29.82 L67.00 29.20 L69.08 29.63 L72.95 30.41 L76.80 31.20 L76.82 31.21 L80.69 32.36 L84.56 33.52 L86.50 34.10 L88.43 34.57 L92.29 35.52 L96.16 36.47 L96.30 36.50 L100.03 36.18 L103.90 35.85 L107.77 35.52 L108.00 35.50 L111.64 36.95 L115.51 38.48 L115.80 38.60 L119.37 39.15 L123.24 39.75 L127.11 40.35 L130.00 40.80 L130.98 40.93 L134.85 41.44 L138.72 41.95 L142.58 42.46 L146.45 42.97 L150.32 43.47 L154.19 43.98 L158.06 44.49 L161.93 45.00 L165.79 45.51 L169.66 46.02 L173.53 46.53 L177.40 47.04 L181.27 47.55 L185.14 48.06 L188.50 48.50 L189.01 48.58 L192.87 49.16 L196.74 49.74 L200.61 50.32 L204.48 50.90 L208.35 51.48 L212.22 52.06 L216.08 52.64 L219.95 53.23 L223.82 53.81 L227.69 54.39 L231.56 54.97 L235.43 55.55 L239.29 56.13 L243.16 56.71 L247.03 57.29 L250.90 57.87 L254.40 58.40 L254.77 58.45 L258.64 58.99 L262.51 59.53 L266.37 60.08 L270.24 60.62 L274.11 61.16 L277.98 61.70 L281.85 62.24 L285.72 62.78 L289.58 63.32 L293.45 63.87 L297.32 64.41 L301.19 64.95 L305.06 65.49 L308.93 66.03 L312.79 66.57 L316.66 67.11 L320.53 67.65 L323.00 68.00 L324.40 68.17 L328.27 68.62 L332.14 69.08 L336.01 69.54 L339.87 70.00 L343.74 70.45 L347.61 70.91 L351.48 71.37 L355.35 71.83 L359.22 72.29 L363.08 72.74 L366.95 73.20 L370.82 73.66 L374.69 74.12 L378.56 74.58 L382.43 75.03 L386.29 75.49 L390.16 75.95 L394.03 76.41 L397.90 76.86 L401.77 77.32 L405.64 77.78 L405.80 77.80 L409.51 78.17 L413.37 78.56 L417.24 78.94 L421.11 79.33 L424.98 79.71 L428.85 80.10 L432.72 80.48 L436.58 80.87 L440.45 81.25 L444.32 81.64 L448.19 82.03 L452.06 82.41 L455.93 82.80 L459.79 83.18 L463.66 83.57 L467.53 83.95 L471.40 84.34 L473.00 84.50 L475.27 84.69 L479.14 85.02 L483.01 85.35 L486.87 85.68 L490.74 86.01 L494.61 86.34 L498.48 86.67 L502.35 87.00 L506.22 87.33 L510.08 87.66 L513.95 87.98 L517.82 88.31 L521.69 88.64 L525.56 88.97 L529.43 89.30 L533.29 89.63 L537.16 89.96 L541.03 90.29 L544.70 90.60 L544.90 90.60" stroke="#00f810" stroke-width="2.0" fill="none" stroke-linejoin="round" stroke-dasharray="6 5.5"/>
<path d="M30.40 13.60 L30.50 13.60 L34.27 11.46 L34.90 11.10 L38.14 13.17 L38.80 13.60 L42.01 13.60 L45.87 13.60 L49.74 13.60 L53.40 13.60 L53.61 13.73 L57.48 16.13 L59.20 17.20 L61.35 17.48 L65.22 18.00 L69.00 18.50 L69.08 18.51 L72.95 18.84 L76.82 19.17 L80.69 19.50 L80.70 19.50 L84.56 20.19 L88.43 20.89 L88.50 20.90 L92.29 21.81 L96.16 22.73 L97.30 23.00 L100.03 23.36 L103.90 23.86 L107.77 24.37 L108.00 24.40 L111.64 24.68 L115.51 24.98 L119.37 25.27 L119.70 25.30 L123.24 26.02 L127.11 26.81 L130.00 27.40 L130.98 27.54 L134.85 28.10 L138.72 28.67 L142.58 29.23 L146.45 29.79 L150.32 30.35 L154.19 30.91 L158.06 31.48 L161.93 32.04 L165.79 32.60 L169.66 33.16 L173.53 33.73 L177.40 34.29 L181.27 34.85 L185.14 35.41 L188.50 35.90 L189.01 35.97 L192.87 36.47 L196.74 36.97 L200.61 37.48 L204.48 37.98 L208.35 38.48 L212.22 38.98 L216.08 39.49 L219.95 39.99 L223.82 40.49 L227.69 41.00 L231.56 41.50 L235.43 42.00 L239.29 42.51 L243.16 43.01 L247.03 43.51 L250.00 43.90 L250.90 44.02 L254.77 44.52 L258.64 45.02 L262.51 45.53 L266.37 46.03 L270.24 46.53 L274.11 47.04 L277.98 47.54 L281.85 48.04 L285.72 48.55 L289.58 49.05 L293.45 49.55 L297.32 50.06 L301.19 50.56 L305.06 51.07 L308.93 51.57 L312.79 52.07 L316.66 52.58 L320.53 53.08 L323.00 53.40 L324.40 53.57 L328.27 54.03 L332.14 54.49 L336.01 54.95 L339.87 55.42 L343.74 55.88 L347.61 56.34 L351.48 56.80 L355.35 57.26 L359.22 57.73 L363.08 58.19 L366.95 58.65 L370.82 59.11 L374.69 59.58 L378.56 60.04 L382.43 60.50 L386.29 60.96 L390.16 61.42 L394.03 61.89 L397.90 62.35 L400.00 62.60 L401.77 62.78 L405.64 63.16 L409.51 63.55 L413.37 63.94 L417.24 64.32 L421.11 64.71 L424.98 65.10 L428.85 65.48 L432.72 65.87 L436.58 66.26 L440.45 66.65 L444.32 67.03 L448.19 67.42 L452.06 67.81 L455.93 68.19 L459.79 68.58 L463.66 68.97 L467.53 69.35 L471.40 69.74 L473.00 69.90 L475.27 70.10 L479.14 70.45 L483.01 70.79 L486.87 71.14 L490.74 71.48 L494.61 71.83 L498.48 72.17 L502.35 72.52 L506.22 72.86 L510.08 73.21 L513.95 73.56 L517.82 73.90 L521.69 74.25 L525.56 74.59 L529.43 74.94 L533.29 75.28 L537.16 75.63 L541.03 75.97 L544.70 76.30 L544.90 76.30" stroke="#2b8ee0" stroke-width="1.9" fill="none" stroke-linejoin="round" stroke-dasharray="1.6 1.35"/>
</g>
<rect x="30.40" y="9.20" width="514.50" height="197.60" stroke="#9a9a9a" stroke-width="1" fill="none"/>
<rect x="153.50" y="13.90" width="388.20" height="12.30" fill="#fff" stroke="#8a8a8a" stroke-width="1"/>
<path d="M156.10 19.9h5M161.90 19.9h1.6M167.00 19.9h1.6M169.40 19.9H174.40" stroke="#ffff00" stroke-width="1.5"/>
<circle cx="165.25" cy="19.9" r="1.9" fill="#ffff00"/>
<text x="175.50" y="22.60" class="lg">1150/4</text>
<path d="M209.40 19.9h3.8M223.00 19.9H226.30" stroke="#ff0000" stroke-width="1"/>
<circle cx="217.85" cy="19.9" r="1.9" fill="#ff0000"/>
<text x="228.70" y="22.60" class="lg">1200/4</text>
<path d="M262.10 19.9H279.50" stroke="#0000ff" stroke-width="0.9" stroke-dasharray="1 1"/>
<circle cx="270.80" cy="19.9" r="1.6" fill="#0000ff"/>
<text x="280.50" y="22.60" class="lg">1250/4</text>
<path d="M314.00 19.9h4.5M320.50 19.9h4.5M327.00 19.9H331.50" stroke="#ff00ff" stroke-width="1.75"/>
<text x="332.80" y="22.60" class="lg">1300/4</text>
<path d="M367.00 19.9H385.60" stroke="#00ffff" stroke-width="2.0"/>
<text x="386.20" y="22.60" class="lg">1230/12</text>
<path d="M425.90 19.9H431.90M440.10 19.9H443.60" stroke="#00f810" stroke-width="2.0"/>
<text x="444.00" y="22.60" class="lg">1300/12</text>
<path d="M483.40 19.9H501.60" stroke="#2b8ee0" stroke-width="1.9" stroke-dasharray="1.6 1.35"/>
<text x="502.40" y="22.60" class="lg">1350/12</text>
<text x="26.60" y="209.90" text-anchor="end" class="tl">30</text>
<text x="26.60" y="160.50" text-anchor="end" class="tl">35</text>
<text x="26.60" y="111.10" text-anchor="end" class="tl">40</text>
<text x="26.60" y="61.70" text-anchor="end" class="tl">45</text>
<text x="26.60" y="12.30" text-anchor="end" class="tl">50</text>
<text x="23.60" y="225.30" class="tl">10<tspan class="ex" dx="0.6" dy="-5">5</tspan></text>
<text x="247.20" y="225.30" class="tl">10<tspan class="ex" dx="0.6" dy="-5">6</tspan></text>
<text x="470.80" y="225.30" class="tl">10<tspan class="ex" dx="0.6" dy="-5">7</tspan></text>
<text class="al" style="font-size:8.85px" transform="translate(11.5,108.3) rotate(-90)" text-anchor="middle">Relative permittivity</text>
<text class="al" style="font-size:9.95px" x="268.8" y="234.9" text-anchor="middle">Frequency [Hz]</text>
<text class="cap" x="277.4" y="252.9" text-anchor="middle"><tspan font-weight="normal">(</tspan>a<tspan font-weight="normal">)</tspan></text>
<path d="M108.06 267.20V459.50M146.42 267.20V459.50M173.63 267.20V459.50M194.74 267.20V459.50M211.98 267.20V459.50M226.56 267.20V459.50M239.19 267.20V459.50M250.33 267.20V459.50M260.30 267.20V459.50M325.86 267.20V459.50M364.22 267.20V459.50M391.43 267.20V459.50M412.54 267.20V459.50M429.78 267.20V459.50M444.36 267.20V459.50M456.99 267.20V459.50M468.13 267.20V459.50M478.10 267.20V459.50M42.50 421.04H543.80M42.50 382.58H543.80M42.50 344.12H543.80M42.50 305.66H543.80" stroke="#f1f1f1" stroke-width="1" fill="none"/>
<path d="M42.50 459.50v-5M42.50 267.20v5M108.06 459.50v-2.6M108.06 267.20v2.6M146.42 459.50v-2.6M146.42 267.20v2.6M173.63 459.50v-2.6M173.63 267.20v2.6M194.74 459.50v-2.6M194.74 267.20v2.6M211.98 459.50v-2.6M211.98 267.20v2.6M226.56 459.50v-2.6M226.56 267.20v2.6M239.19 459.50v-2.6M239.19 267.20v2.6M250.33 459.50v-2.6M250.33 267.20v2.6M260.30 459.50v-5M260.30 267.20v5M325.86 459.50v-2.6M325.86 267.20v2.6M364.22 459.50v-2.6M364.22 267.20v2.6M391.43 459.50v-2.6M391.43 267.20v2.6M412.54 459.50v-2.6M412.54 267.20v2.6M429.78 459.50v-2.6M429.78 267.20v2.6M444.36 459.50v-2.6M444.36 267.20v2.6M456.99 459.50v-2.6M456.99 267.20v2.6M468.13 459.50v-2.6M468.13 267.20v2.6M478.10 459.50v-5M478.10 267.20v5M543.66 459.50v-2.6M543.66 267.20v2.6M42.50 459.50h5M543.80 459.50h-5M42.50 421.04h5M543.80 421.04h-5M42.50 382.58h5M543.80 382.58h-5M42.50 344.12h5M543.80 344.12h-5M42.50 305.66h5M543.80 305.66h-5" stroke="#9a9a9a" stroke-width="1" fill="none"/>
<rect x="42.50" y="267.20" width="501.30" height="192.30" stroke="#9a9a9a" stroke-width="1" fill="none"/>
<g>
<path d="M42.50 408.68 L46.27 397.06 L50.04 382.78 L53.81 326.10 L57.58 371.07 L61.35 374.54 L65.12 374.58 L68.88 370.91 L72.65 371.15 L76.42 385.77 L80.19 354.05 L83.96 366.37 L87.73 377.81 L91.50 388.00 L95.27 360.82 L99.04 364.41 L102.81 384.01 L106.58 358.20 L110.35 351.32 L114.11 334.71 L117.88 330.30 L121.65 340.01 L125.42 348.52 L129.19 349.04 L132.96 348.05 L136.73 347.91 L140.50 349.51 L144.27 336.62 L148.04 346.36 L151.81 345.58 L155.58 354.89 L159.34 342.02 L163.11 353.70 L166.88 343.86 L170.65 347.44 L174.42 338.11 L178.19 344.50 L181.96 341.66 L185.73 339.71 L189.50 342.86 L193.27 342.79 L197.04 337.92 L200.81 333.99 L204.57 332.08 L208.34 338.10 L212.11 341.27 L215.88 340.98 L219.65 338.70 L223.42 335.71 L227.19 333.52 L230.96 333.52 L234.73 334.67 L238.50 333.36 L242.27 333.56 L246.04 335.24 L249.80 332.96 L253.57 332.72 L257.34 337.53 L261.11 335.63 L264.88 334.51 L268.65 334.50 L272.42 335.01 L276.19 335.07 L279.96 335.29 L283.73 335.71 L287.50 336.09 L291.27 336.42 L295.03 336.76 L298.80 337.17 L302.57 337.59 L306.34 337.42 L310.11 337.24 L313.88 337.93 L317.65 338.85 L321.42 339.43 L325.19 339.79 L328.96 340.16 L332.73 340.53 L336.50 341.11 L340.26 342.27 L344.03 343.43 L347.80 344.58 L351.57 345.73 L355.34 346.84 L359.11 347.94 L362.88 349.98 L366.65 352.11 L370.42 353.78 L374.19 355.45 L377.96 357.12 L381.73 358.78 L385.49 360.41 L389.26 362.05 L393.03 363.68 L396.80 365.41 L400.57 367.31 L404.34 369.21 L408.11 370.55 L411.88 371.48 L415.65 372.41 L419.42 373.46 L423.19 374.53 L426.96 375.60 L430.72 376.76 L434.49 377.98 L438.26 379.21 L442.03 380.44 L445.80 381.60 L449.57 382.51 L453.34 383.43 L457.11 384.35 L460.88 385.27 L464.65 386.53 L468.42 387.85 L472.19 389.16 L475.95 390.48 L479.72 391.79 L483.49 393.20 L487.26 395.08 L491.03 396.97 L494.80 398.85 L498.57 400.73 L502.34 402.62 L506.11 404.72 L509.88 407.07 L513.65 409.41 L517.42 411.76 L521.18 414.10 L524.95 416.32 L528.72 418.53 L532.49 420.74 L536.26 422.53 L540.03 423.93 L543.80 425.00" stroke="#ffff00" stroke-width="0.9" fill="none" stroke-linejoin="round" stroke-dasharray="3 1.5 1 1.5"/>
<g fill="#ffff00"><circle cx="42.50" cy="408.68" r="1.5"/><circle cx="46.27" cy="397.06" r="1.5"/><circle cx="50.04" cy="382.78" r="1.5"/><circle cx="53.81" cy="326.10" r="1.5"/><circle cx="57.58" cy="371.07" r="1.5"/><circle cx="61.35" cy="374.54" r="1.5"/><circle cx="65.12" cy="374.58" r="1.5"/><circle cx="68.88" cy="370.91" r="1.5"/><circle cx="72.65" cy="371.15" r="1.5"/><circle cx="76.42" cy="385.77" r="1.5"/><circle cx="80.19" cy="354.05" r="1.5"/><circle cx="83.96" cy="366.37" r="1.5"/><circle cx="87.73" cy="377.81" r="1.5"/><circle cx="91.50" cy="388.00" r="1.5"/><circle cx="95.27" cy="360.82" r="1.5"/><circle cx="99.04" cy="364.41" r="1.5"/><circle cx="102.81" cy="384.01" r="1.5"/><circle cx="106.58" cy="358.20" r="1.5"/><circle cx="110.35" cy="351.32" r="1.5"/><circle cx="114.11" cy="334.71" r="1.5"/><circle cx="117.88" cy="330.30" r="1.5"/><circle cx="121.65" cy="340.01" r="1.5"/><circle cx="125.42" cy="348.52" r="1.5"/><circle cx="129.19" cy="349.04" r="1.5"/><circle cx="132.96" cy="348.05" r="1.5"/><circle cx="136.73" cy="347.91" r="1.5"/><circle cx="140.50" cy="349.51" r="1.5"/><circle cx="144.27" cy="336.62" r="1.5"/><circle cx="148.04" cy="346.36" r="1.5"/><circle cx="151.81" cy="345.58" r="1.5"/><circle cx="155.58" cy="354.89" r="1.5"/><circle cx="159.34" cy="342.02" r="1.5"/><circle cx="163.11" cy="353.70" r="1.5"/><circle cx="166.88" cy="343.86" r="1.5"/><circle cx="170.65" cy="347.44" r="1.5"/><circle cx="174.42" cy="338.11" r="1.5"/><circle cx="178.19" cy="344.50" r="1.5"/><circle cx="181.96" cy="341.66" r="1.5"/><circle cx="185.73" cy="339.71" r="1.5"/><circle cx="189.50" cy="342.86" r="1.5"/><circle cx="193.27" cy="342.79" r="1.5"/><circle cx="197.04" cy="337.92" r="1.5"/><circle cx="200.81" cy="333.99" r="1.5"/><circle cx="204.57" cy="332.08" r="1.5"/><circle cx="208.34" cy="338.10" r="1.5"/><circle cx="212.11" cy="341.27" r="1.5"/><circle cx="215.88" cy="340.98" r="1.5"/><circle cx="219.65" cy="338.70" r="1.5"/><circle cx="223.42" cy="335.71" r="1.5"/><circle cx="227.19" cy="333.52" r="1.5"/><circle cx="230.96" cy="333.52" r="1.5"/><circle cx="234.73" cy="334.67" r="1.5"/><circle cx="238.50" cy="333.36" r="1.5"/><circle cx="242.27" cy="333.56" r="1.5"/><circle cx="246.04" cy="335.24" r="1.5"/><circle cx="249.80" cy="332.96" r="1.5"/><circle cx="253.57" cy="332.72" r="1.5"/><circle cx="257.34" cy="337.53" r="1.5"/><circle cx="261.11" cy="335.63" r="1.5"/><circle cx="264.88" cy="334.51" r="1.5"/><circle cx="268.65" cy="334.50" r="1.5"/><circle cx="272.42" cy="335.01" r="1.5"/><circle cx="276.19" cy="335.07" r="1.5"/><circle cx="279.96" cy="335.29" r="1.5"/><circle cx="283.73" cy="335.71" r="1.5"/><circle cx="287.50" cy="336.09" r="1.5"/><circle cx="291.27" cy="336.42" r="1.5"/><circle cx="295.03" cy="336.76" r="1.5"/><circle cx="298.80" cy="337.17" r="1.5"/><circle cx="302.57" cy="337.59" r="1.5"/><circle cx="306.34" cy="337.42" r="1.5"/><circle cx="310.11" cy="337.24" r="1.5"/><circle cx="313.88" cy="337.93" r="1.5"/><circle cx="317.65" cy="338.85" r="1.5"/><circle cx="321.42" cy="339.43" r="1.5"/><circle cx="325.19" cy="339.79" r="1.5"/><circle cx="328.96" cy="340.16" r="1.5"/><circle cx="332.73" cy="340.53" r="1.5"/><circle cx="336.50" cy="341.11" r="1.5"/><circle cx="340.26" cy="342.27" r="1.5"/><circle cx="344.03" cy="343.43" r="1.5"/><circle cx="347.80" cy="344.58" r="1.5"/><circle cx="351.57" cy="345.73" r="1.5"/><circle cx="355.34" cy="346.84" r="1.5"/><circle cx="359.11" cy="347.94" r="1.5"/><circle cx="362.88" cy="349.98" r="1.5"/><circle cx="366.65" cy="352.11" r="1.5"/><circle cx="370.42" cy="353.78" r="1.5"/><circle cx="374.19" cy="355.45" r="1.5"/><circle cx="377.96" cy="357.12" r="1.5"/><circle cx="381.73" cy="358.78" r="1.5"/><circle cx="385.49" cy="360.41" r="1.5"/><circle cx="389.26" cy="362.05" r="1.5"/><circle cx="393.03" cy="363.68" r="1.5"/><circle cx="396.80" cy="365.41" r="1.5"/><circle cx="400.57" cy="367.31" r="1.5"/><circle cx="404.34" cy="369.21" r="1.5"/><circle cx="408.11" cy="370.55" r="1.5"/><circle cx="411.88" cy="371.48" r="1.5"/><circle cx="415.65" cy="372.41" r="1.5"/><circle cx="419.42" cy="373.46" r="1.5"/><circle cx="423.19" cy="374.53" r="1.5"/><circle cx="426.96" cy="375.60" r="1.5"/><circle cx="430.72" cy="376.76" r="1.5"/><circle cx="434.49" cy="377.98" r="1.5"/><circle cx="438.26" cy="379.21" r="1.5"/><circle cx="442.03" cy="380.44" r="1.5"/><circle cx="445.80" cy="381.60" r="1.5"/><circle cx="449.57" cy="382.51" r="1.5"/><circle cx="453.34" cy="383.43" r="1.5"/><circle cx="457.11" cy="384.35" r="1.5"/><circle cx="460.88" cy="385.27" r="1.5"/><circle cx="464.65" cy="386.53" r="1.5"/><circle cx="468.42" cy="387.85" r="1.5"/><circle cx="472.19" cy="389.16" r="1.5"/><circle cx="475.95" cy="390.48" r="1.5"/><circle cx="479.72" cy="391.79" r="1.5"/><circle cx="483.49" cy="393.20" r="1.5"/><circle cx="487.26" cy="395.08" r="1.5"/><circle cx="491.03" cy="396.97" r="1.5"/><circle cx="494.80" cy="398.85" r="1.5"/><circle cx="498.57" cy="400.73" r="1.5"/><circle cx="502.34" cy="402.62" r="1.5"/><circle cx="506.11" cy="404.72" r="1.5"/><circle cx="509.88" cy="407.07" r="1.5"/><circle cx="513.65" cy="409.41" r="1.5"/><circle cx="517.42" cy="411.76" r="1.5"/><circle cx="521.18" cy="414.10" r="1.5"/><circle cx="524.95" cy="416.32" r="1.5"/><circle cx="528.72" cy="418.53" r="1.5"/><circle cx="532.49" cy="420.74" r="1.5"/><circle cx="536.26" cy="422.53" r="1.5"/><circle cx="540.03" cy="423.93" r="1.5"/><circle cx="543.80" cy="425.00" r="1.5"/></g>
<path d="M42.50 404.25 L46.27 397.27 L50.04 388.20 L53.81 381.90 L57.58 365.14 L61.35 367.35 L65.12 380.28 L68.88 349.02 L72.65 364.68 L76.42 359.71 L80.19 376.32 L83.96 380.07 L87.73 393.35 L91.50 390.30 L95.27 360.15 L99.04 374.50 L102.81 374.92 L106.58 362.10 L110.35 364.68 L114.11 352.52 L117.88 351.78 L121.65 358.38 L125.42 367.16 L129.19 359.10 L132.96 358.05 L136.73 355.17 L140.50 353.71 L144.27 367.43 L148.04 363.64 L151.81 357.22 L155.58 356.53 L159.34 364.56 L163.11 358.06 L166.88 361.38 L170.65 362.10 L174.42 355.46 L178.19 360.68 L181.96 356.61 L185.73 357.83 L189.50 354.92 L193.27 353.94 L197.04 356.84 L200.81 352.91 L204.57 352.20 L208.34 357.46 L212.11 351.76 L215.88 354.28 L219.65 356.77 L223.42 358.36 L227.19 354.41 L230.96 350.36 L234.73 352.83 L238.50 353.80 L242.27 353.16 L246.04 353.00 L249.80 355.60 L253.57 356.30 L257.34 355.75 L261.11 354.95 L264.88 355.50 L268.65 356.66 L272.42 357.84 L276.19 358.35 L279.96 358.36 L283.73 359.15 L287.50 359.55 L291.27 359.03 L295.03 359.61 L298.80 361.04 L302.57 362.21 L306.34 363.33 L310.11 363.16 L313.88 362.34 L317.65 363.28 L321.42 364.96 L325.19 365.95 L328.96 366.70 L332.73 367.68 L336.50 368.83 L340.26 369.81 L344.03 370.54 L347.80 371.38 L351.57 372.52 L355.34 373.64 L359.11 374.25 L362.88 377.12 L366.65 380.18 L370.42 382.08 L374.19 383.98 L377.96 385.88 L381.73 387.76 L385.49 389.65 L389.26 391.52 L393.03 393.39 L396.80 395.25 L400.57 397.15 L404.34 399.05 L408.11 400.87 L411.88 402.11 L415.65 403.36 L419.42 404.50 L423.19 405.43 L426.96 406.37 L430.72 407.32 L434.49 408.29 L438.26 409.26 L442.03 411.71 L445.80 412.84 L449.57 413.96 L453.34 415.09 L457.11 416.22 L460.88 417.34 L464.65 418.48 L468.42 419.62 L472.19 420.76 L475.95 421.90 L479.72 423.04 L483.49 424.22 L487.26 425.63 L491.03 427.04 L494.80 428.45 L498.57 429.86 L502.34 431.91 L506.11 434.35 L509.88 436.79 L513.65 439.22 L517.42 441.47 L521.18 443.60 L524.95 445.74 L528.72 447.88 L532.49 449.51 L536.26 450.88 L540.03 452.25 L543.80 453.30" stroke="#ff0000" stroke-width="0.9" fill="none" stroke-linejoin="round" stroke-dasharray="3 2"/>
<g fill="none" stroke="#ff0000" stroke-width="1.1"><circle cx="42.50" cy="404.25" r="1.55"/><circle cx="46.27" cy="397.27" r="1.55"/><circle cx="50.04" cy="388.20" r="1.55"/><circle cx="53.81" cy="381.90" r="1.55"/><circle cx="57.58" cy="365.14" r="1.55"/><circle cx="61.35" cy="367.35" r="1.55"/><circle cx="65.12" cy="380.28" r="1.55"/><circle cx="68.88" cy="349.02" r="1.55"/><circle cx="72.65" cy="364.68" r="1.55"/><circle cx="76.42" cy="359.71" r="1.55"/><circle cx="80.19" cy="376.32" r="1.55"/><circle cx="83.96" cy="380.07" r="1.55"/><circle cx="87.73" cy="393.35" r="1.55"/><circle cx="91.50" cy="390.30" r="1.55"/><circle cx="95.27" cy="360.15" r="1.55"/><circle cx="99.04" cy="374.50" r="1.55"/><circle cx="102.81" cy="374.92" r="1.55"/><circle cx="106.58" cy="362.10" r="1.55"/><circle cx="110.35" cy="364.68" r="1.55"/><circle cx="114.11" cy="352.52" r="1.55"/><circle cx="117.88" cy="351.78" r="1.55"/><circle cx="121.65" cy="358.38" r="1.55"/><circle cx="125.42" cy="367.16" r="1.55"/><circle cx="129.19" cy="359.10" r="1.55"/><circle cx="132.96" cy="358.05" r="1.55"/><circle cx="136.73" cy="355.17" r="1.55"/><circle cx="140.50" cy="353.71" r="1.55"/><circle cx="144.27" cy="367.43" r="1.55"/><circle cx="148.04" cy="363.64" r="1.55"/><circle cx="151.81" cy="357.22" r="1.55"/><circle cx="155.58" cy="356.53" r="1.55"/><circle cx="159.34" cy="364.56" r="1.55"/><circle cx="163.11" cy="358.06" r="1.55"/><circle cx="166.88" cy="361.38" r="1.55"/><circle cx="170.65" cy="362.10" r="1.55"/><circle cx="174.42" cy="355.46" r="1.55"/><circle cx="178.19" cy="360.68" r="1.55"/><circle cx="181.96" cy="356.61" r="1.55"/><circle cx="185.73" cy="357.83" r="1.55"/><circle cx="189.50" cy="354.92" r="1.55"/><circle cx="193.27" cy="353.94" r="1.55"/><circle cx="197.04" cy="356.84" r="1.55"/><circle cx="200.81" cy="352.91" r="1.55"/><circle cx="204.57" cy="352.20" r="1.55"/><circle cx="208.34" cy="357.46" r="1.55"/><circle cx="212.11" cy="351.76" r="1.55"/><circle cx="215.88" cy="354.28" r="1.55"/><circle cx="219.65" cy="356.77" r="1.55"/><circle cx="223.42" cy="358.36" r="1.55"/><circle cx="227.19" cy="354.41" r="1.55"/><circle cx="230.96" cy="350.36" r="1.55"/><circle cx="234.73" cy="352.83" r="1.55"/><circle cx="238.50" cy="353.80" r="1.55"/><circle cx="242.27" cy="353.16" r="1.55"/><circle cx="246.04" cy="353.00" r="1.55"/><circle cx="249.80" cy="355.60" r="1.55"/><circle cx="253.57" cy="356.30" r="1.55"/><circle cx="257.34" cy="355.75" r="1.55"/><circle cx="261.11" cy="354.95" r="1.55"/><circle cx="264.88" cy="355.50" r="1.55"/><circle cx="268.65" cy="356.66" r="1.55"/><circle cx="272.42" cy="357.84" r="1.55"/><circle cx="276.19" cy="358.35" r="1.55"/><circle cx="279.96" cy="358.36" r="1.55"/><circle cx="283.73" cy="359.15" r="1.55"/><circle cx="287.50" cy="359.55" r="1.55"/><circle cx="291.27" cy="359.03" r="1.55"/><circle cx="295.03" cy="359.61" r="1.55"/><circle cx="298.80" cy="361.04" r="1.55"/><circle cx="302.57" cy="362.21" r="1.55"/><circle cx="306.34" cy="363.33" r="1.55"/><circle cx="310.11" cy="363.16" r="1.55"/><circle cx="313.88" cy="362.34" r="1.55"/><circle cx="317.65" cy="363.28" r="1.55"/><circle cx="321.42" cy="364.96" r="1.55"/><circle cx="325.19" cy="365.95" r="1.55"/><circle cx="328.96" cy="366.70" r="1.55"/><circle cx="332.73" cy="367.68" r="1.55"/><circle cx="336.50" cy="368.83" r="1.55"/><circle cx="340.26" cy="369.81" r="1.55"/><circle cx="344.03" cy="370.54" r="1.55"/><circle cx="347.80" cy="371.38" r="1.55"/><circle cx="351.57" cy="372.52" r="1.55"/><circle cx="355.34" cy="373.64" r="1.55"/><circle cx="359.11" cy="374.25" r="1.55"/><circle cx="362.88" cy="377.12" r="1.55"/><circle cx="366.65" cy="380.18" r="1.55"/><circle cx="370.42" cy="382.08" r="1.55"/><circle cx="374.19" cy="383.98" r="1.55"/><circle cx="377.96" cy="385.88" r="1.55"/><circle cx="381.73" cy="387.76" r="1.55"/><circle cx="385.49" cy="389.65" r="1.55"/><circle cx="389.26" cy="391.52" r="1.55"/><circle cx="393.03" cy="393.39" r="1.55"/><circle cx="396.80" cy="395.25" r="1.55"/><circle cx="400.57" cy="397.15" r="1.55"/><circle cx="404.34" cy="399.05" r="1.55"/><circle cx="408.11" cy="400.87" r="1.55"/><circle cx="411.88" cy="402.11" r="1.55"/><circle cx="415.65" cy="403.36" r="1.55"/><circle cx="419.42" cy="404.50" r="1.55"/><circle cx="423.19" cy="405.43" r="1.55"/><circle cx="426.96" cy="406.37" r="1.55"/><circle cx="430.72" cy="407.32" r="1.55"/><circle cx="434.49" cy="408.29" r="1.55"/><circle cx="438.26" cy="409.26" r="1.55"/><circle cx="442.03" cy="411.71" r="1.55"/><circle cx="445.80" cy="412.84" r="1.55"/><circle cx="449.57" cy="413.96" r="1.55"/><circle cx="453.34" cy="415.09" r="1.55"/><circle cx="457.11" cy="416.22" r="1.55"/><circle cx="460.88" cy="417.34" r="1.55"/><circle cx="464.65" cy="418.48" r="1.55"/><circle cx="468.42" cy="419.62" r="1.55"/><circle cx="472.19" cy="420.76" r="1.55"/><circle cx="475.95" cy="421.90" r="1.55"/><circle cx="479.72" cy="423.04" r="1.55"/><circle cx="483.49" cy="424.22" r="1.55"/><circle cx="487.26" cy="425.63" r="1.55"/><circle cx="491.03" cy="427.04" r="1.55"/><circle cx="494.80" cy="428.45" r="1.55"/><circle cx="498.57" cy="429.86" r="1.55"/><circle cx="502.34" cy="431.91" r="1.55"/><circle cx="506.11" cy="434.35" r="1.55"/><circle cx="509.88" cy="436.79" r="1.55"/><circle cx="513.65" cy="439.22" r="1.55"/><circle cx="517.42" cy="441.47" r="1.55"/><circle cx="521.18" cy="443.60" r="1.55"/><circle cx="524.95" cy="445.74" r="1.55"/><circle cx="528.72" cy="447.88" r="1.55"/><circle cx="532.49" cy="449.51" r="1.55"/><circle cx="536.26" cy="450.88" r="1.55"/><circle cx="540.03" cy="452.25" r="1.55"/><circle cx="543.80" cy="453.30" r="1.55"/></g>
<path d="M42.50 270.10 L46.27 277.13 L50.04 285.56 L53.81 293.59 L57.58 297.58 L61.35 301.35 L65.12 305.21 L68.88 301.30 L72.65 279.07 L76.42 293.69 L80.19 301.22 L83.96 295.23 L87.73 279.60 L91.50 283.10 L95.27 273.58 L99.04 271.64 L102.81 268.28 L106.58 274.65 L110.35 277.70 L114.11 271.71 L117.88 275.32 L121.65 281.71 L125.42 271.07 L129.19 275.24 L132.96 295.67 L136.73 292.54 L140.50 289.90 L144.27 286.87 L148.04 288.27 L151.81 285.19 L155.58 291.60 L159.34 291.72 L163.11 296.75 L166.88 301.67 L170.65 312.57 L174.42 296.32 L178.19 302.12 L181.96 307.79 L185.73 314.03 L189.50 310.65 L193.27 310.62 L197.04 314.22 L200.81 313.91 L204.57 316.55 L208.34 318.63 L212.11 317.44 L215.88 317.75 L219.65 322.82 L223.42 322.89 L227.19 323.33 L230.96 322.24 L234.73 323.81 L238.50 322.96 L242.27 325.97 L246.04 325.27 L249.80 326.53 L253.57 328.43 L257.34 329.92 L261.11 330.73 L264.88 332.12 L268.65 333.63 L272.42 335.89 L276.19 336.25 L279.96 336.51 L283.73 337.62 L287.50 338.72 L291.27 339.84 L295.03 340.91 L298.80 341.69 L302.57 342.47 L306.34 343.21 L310.11 343.95 L313.88 345.30 L317.65 346.82 L321.42 347.85 L325.19 348.59 L328.96 349.51 L332.73 350.65 L336.50 351.99 L340.26 353.85 L344.03 355.63 L347.80 356.78 L351.57 357.93 L355.34 359.43 L359.11 360.94 L362.88 363.55 L366.65 366.18 L370.42 368.08 L374.19 369.98 L377.96 371.86 L381.73 373.71 L385.49 375.56 L389.26 377.22 L393.03 378.80 L396.80 380.38 L400.57 382.59 L404.34 384.86 L408.11 386.35 L411.88 387.28 L415.65 388.21 L419.42 389.48 L423.19 390.83 L426.96 392.18 L430.72 393.35 L434.49 394.36 L438.26 395.38 L442.03 396.40 L445.80 397.51 L449.57 398.98 L453.34 400.45 L457.11 401.93 L460.88 403.40 L464.65 404.73 L468.42 406.05 L472.19 407.36 L475.95 408.68 L479.72 409.99 L483.49 411.37 L487.26 413.08 L491.03 414.79 L494.80 416.49 L498.57 418.20 L502.34 419.91 L506.11 421.69 L509.88 423.56 L513.65 425.42 L517.42 427.28 L521.18 429.14 L524.95 430.46 L528.72 431.73 L532.49 432.99 L536.26 433.99 L540.03 434.73 L543.80 435.30" stroke="#0000ff" stroke-width="0.8" fill="none" stroke-linejoin="round" stroke-dasharray="1 1"/>
<g fill="#0000ff"><circle cx="42.50" cy="270.10" r="1.4"/><circle cx="46.27" cy="277.13" r="1.4"/><circle cx="50.04" cy="285.56" r="1.4"/><circle cx="53.81" cy="293.59" r="1.4"/><circle cx="57.58" cy="297.58" r="1.4"/><circle cx="61.35" cy="301.35" r="1.4"/><circle cx="65.12" cy="305.21" r="1.4"/><circle cx="68.88" cy="301.30" r="1.4"/><circle cx="72.65" cy="279.07" r="1.4"/><circle cx="76.42" cy="293.69" r="1.4"/><circle cx="80.19" cy="301.22" r="1.4"/><circle cx="83.96" cy="295.23" r="1.4"/><circle cx="87.73" cy="279.60" r="1.4"/><circle cx="91.50" cy="283.10" r="1.4"/><circle cx="95.27" cy="273.58" r="1.4"/><circle cx="99.04" cy="271.64" r="1.4"/><circle cx="102.81" cy="268.28" r="1.4"/><circle cx="106.58" cy="274.65" r="1.4"/><circle cx="110.35" cy="277.70" r="1.4"/><circle cx="114.11" cy="271.71" r="1.4"/><circle cx="117.88" cy="275.32" r="1.4"/><circle cx="121.65" cy="281.71" r="1.4"/><circle cx="125.42" cy="271.07" r="1.4"/><circle cx="129.19" cy="275.24" r="1.4"/><circle cx="132.96" cy="295.67" r="1.4"/><circle cx="136.73" cy="292.54" r="1.4"/><circle cx="140.50" cy="289.90" r="1.4"/><circle cx="144.27" cy="286.87" r="1.4"/><circle cx="148.04" cy="288.27" r="1.4"/><circle cx="151.81" cy="285.19" r="1.4"/><circle cx="155.58" cy="291.60" r="1.4"/><circle cx="159.34" cy="291.72" r="1.4"/><circle cx="163.11" cy="296.75" r="1.4"/><circle cx="166.88" cy="301.67" r="1.4"/><circle cx="170.65" cy="312.57" r="1.4"/><circle cx="174.42" cy="296.32" r="1.4"/><circle cx="178.19" cy="302.12" r="1.4"/><circle cx="181.96" cy="307.79" r="1.4"/><circle cx="185.73" cy="314.03" r="1.4"/><circle cx="189.50" cy="310.65" r="1.4"/><circle cx="193.27" cy="310.62" r="1.4"/><circle cx="197.04" cy="314.22" r="1.4"/><circle cx="200.81" cy="313.91" r="1.4"/><circle cx="204.57" cy="316.55" r="1.4"/><circle cx="208.34" cy="318.63" r="1.4"/><circle cx="212.11" cy="317.44" r="1.4"/><circle cx="215.88" cy="317.75" r="1.4"/><circle cx="219.65" cy="322.82" r="1.4"/><circle cx="223.42" cy="322.89" r="1.4"/><circle cx="227.19" cy="323.33" r="1.4"/><circle cx="230.96" cy="322.24" r="1.4"/><circle cx="234.73" cy="323.81" r="1.4"/><circle cx="238.50" cy="322.96" r="1.4"/><circle cx="242.27" cy="325.97" r="1.4"/><circle cx="246.04" cy="325.27" r="1.4"/><circle cx="249.80" cy="326.53" r="1.4"/><circle cx="253.57" cy="328.43" r="1.4"/><circle cx="257.34" cy="329.92" r="1.4"/><circle cx="261.11" cy="330.73" r="1.4"/><circle cx="264.88" cy="332.12" r="1.4"/><circle cx="268.65" cy="333.63" r="1.4"/><circle cx="272.42" cy="335.89" r="1.4"/><circle cx="276.19" cy="336.25" r="1.4"/><circle cx="279.96" cy="336.51" r="1.4"/><circle cx="283.73" cy="337.62" r="1.4"/><circle cx="287.50" cy="338.72" r="1.4"/><circle cx="291.27" cy="339.84" r="1.4"/><circle cx="295.03" cy="340.91" r="1.4"/><circle cx="298.80" cy="341.69" r="1.4"/><circle cx="302.57" cy="342.47" r="1.4"/><circle cx="306.34" cy="343.21" r="1.4"/><circle cx="310.11" cy="343.95" r="1.4"/><circle cx="313.88" cy="345.30" r="1.4"/><circle cx="317.65" cy="346.82" r="1.4"/><circle cx="321.42" cy="347.85" r="1.4"/><circle cx="325.19" cy="348.59" r="1.4"/><circle cx="328.96" cy="349.51" r="1.4"/><circle cx="332.73" cy="350.65" r="1.4"/><circle cx="336.50" cy="351.99" r="1.4"/><circle cx="340.26" cy="353.85" r="1.4"/><circle cx="344.03" cy="355.63" r="1.4"/><circle cx="347.80" cy="356.78" r="1.4"/><circle cx="351.57" cy="357.93" r="1.4"/><circle cx="355.34" cy="359.43" r="1.4"/><circle cx="359.11" cy="360.94" r="1.4"/><circle cx="362.88" cy="363.55" r="1.4"/><circle cx="366.65" cy="366.18" r="1.4"/><circle cx="370.42" cy="368.08" r="1.4"/><circle cx="374.19" cy="369.98" r="1.4"/><circle cx="377.96" cy="371.86" r="1.4"/><circle cx="381.73" cy="373.71" r="1.4"/><circle cx="385.49" cy="375.56" r="1.4"/><circle cx="389.26" cy="377.22" r="1.4"/><circle cx="393.03" cy="378.80" r="1.4"/><circle cx="396.80" cy="380.38" r="1.4"/><circle cx="400.57" cy="382.59" r="1.4"/><circle cx="404.34" cy="384.86" r="1.4"/><circle cx="408.11" cy="386.35" r="1.4"/><circle cx="411.88" cy="387.28" r="1.4"/><circle cx="415.65" cy="388.21" r="1.4"/><circle cx="419.42" cy="389.48" r="1.4"/><circle cx="423.19" cy="390.83" r="1.4"/><circle cx="426.96" cy="392.18" r="1.4"/><circle cx="430.72" cy="393.35" r="1.4"/><circle cx="434.49" cy="394.36" r="1.4"/><circle cx="438.26" cy="395.38" r="1.4"/><circle cx="442.03" cy="396.40" r="1.4"/><circle cx="445.80" cy="397.51" r="1.4"/><circle cx="449.57" cy="398.98" r="1.4"/><circle cx="453.34" cy="400.45" r="1.4"/><circle cx="457.11" cy="401.93" r="1.4"/><circle cx="460.88" cy="403.40" r="1.4"/><circle cx="464.65" cy="404.73" r="1.4"/><circle cx="468.42" cy="406.05" r="1.4"/><circle cx="472.19" cy="407.36" r="1.4"/><circle cx="475.95" cy="408.68" r="1.4"/><circle cx="479.72" cy="409.99" r="1.4"/><circle cx="483.49" cy="411.37" r="1.4"/><circle cx="487.26" cy="413.08" r="1.4"/><circle cx="491.03" cy="414.79" r="1.4"/><circle cx="494.80" cy="416.49" r="1.4"/><circle cx="498.57" cy="418.20" r="1.4"/><circle cx="502.34" cy="419.91" r="1.4"/><circle cx="506.11" cy="421.69" r="1.4"/><circle cx="509.88" cy="423.56" r="1.4"/><circle cx="513.65" cy="425.42" r="1.4"/><circle cx="517.42" cy="427.28" r="1.4"/><circle cx="521.18" cy="429.14" r="1.4"/><circle cx="524.95" cy="430.46" r="1.4"/><circle cx="528.72" cy="431.73" r="1.4"/><circle cx="532.49" cy="432.99" r="1.4"/><circle cx="536.26" cy="433.99" r="1.4"/><circle cx="540.03" cy="434.73" r="1.4"/><circle cx="543.80" cy="435.30" r="1.4"/></g>
<path d="M42.50 299.40 L42.80 299.40 L46.27 302.66 L47.80 304.10 L50.04 305.51 L53.81 307.88 L54.00 308.00 L57.58 302.96 L57.90 302.50 L60.30 290.00 L61.35 284.36 L62.60 277.60 L65.12 275.60 L66.50 274.50 L68.88 277.37 L70.40 279.20 L72.65 283.71 L73.50 285.40 L76.42 295.29 L77.40 298.60 L80.19 321.83 L80.50 324.40 L83.70 307.20 L83.96 306.76 L87.73 300.37 L88.30 299.40 L91.50 291.60 L91.50 291.60 L95.27 312.76 L95.40 313.50 L99.04 297.46 L99.30 296.30 L102.81 298.37 L103.20 298.60 L106.58 295.97 L108.60 294.40 L110.35 292.21 L113.30 288.50 L114.11 284.94 L114.90 281.50 L117.30 300.20 L117.88 301.62 L118.90 304.10 L121.65 294.42 L122.00 293.20 L124.40 290.10 L125.42 291.88 L127.50 295.50 L129.19 301.23 L129.80 303.30 L132.20 293.20 L132.96 287.68 L133.70 282.30 L136.73 291.39 L136.80 291.60 L140.50 300.51 L140.70 301.00 L143.80 304.90 L144.27 304.53 L147.70 301.80 L148.04 300.62 L151.81 287.47 L152.40 285.40 L155.58 293.62 L156.30 295.50 L159.34 296.29 L159.40 296.30 L162.60 295.50 L163.11 296.01 L166.50 299.40 L166.88 299.86 L170.40 304.10 L170.65 304.10 L174.30 304.10 L174.42 303.86 L177.40 297.90 L178.19 293.26 L178.20 293.20 L180.50 301.00 L181.96 300.25 L183.60 299.40 L185.00 300.60 L185.73 300.46 L189.10 299.80 L189.50 299.40 L191.50 297.40 L193.27 296.55 L194.00 296.20 L196.50 301.50 L197.04 301.90 L199.70 303.90 L200.81 303.68 L203.80 303.10 L204.57 302.63 L207.90 300.60 L208.34 300.83 L211.20 302.30 L212.11 303.19 L214.50 305.50 L215.88 304.58 L216.90 303.90 L219.65 310.07 L220.20 311.30 L222.60 306.40 L223.42 306.18 L225.90 305.50 L227.19 305.85 L229.20 306.40 L230.96 305.49 L232.50 304.70 L234.73 305.26 L235.70 305.50 L238.50 306.26 L239.00 306.40 L242.27 305.51 L242.30 305.50 L246.04 307.05 L246.40 307.20 L249.60 310.50 L249.80 310.55 L252.90 311.30 L253.57 310.95 L256.20 309.60 L257.34 309.85 L260.30 310.50 L261.11 311.09 L263.60 312.90 L264.88 314.22 L266.80 316.20 L268.65 315.75 L270.10 315.40 L272.42 313.53 L274.20 312.10 L274.90 311.40 L276.19 311.56 L279.96 312.02 L283.73 312.48 L287.50 312.94 L288.00 313.00 L291.27 314.31 L295.03 315.83 L296.20 316.30 L298.80 316.81 L302.57 317.54 L304.40 317.90 L306.34 318.50 L310.11 319.66 L312.50 320.40 L313.88 320.67 L317.65 321.40 L320.70 322.00 L321.42 322.29 L325.19 323.81 L328.90 325.30 L328.96 325.31 L332.73 325.76 L335.50 326.10 L336.50 326.51 L340.26 328.04 L343.60 329.40 L344.03 329.57 L347.80 331.04 L351.57 332.51 L351.80 332.60 L355.34 334.03 L359.11 335.54 L360.00 335.90 L362.88 337.68 L365.50 339.30 L366.65 339.94 L370.42 342.04 L374.19 344.14 L377.96 346.24 L381.30 348.10 L381.73 348.31 L385.49 350.20 L389.26 352.08 L390.10 352.50 L393.03 353.95 L396.80 355.82 L400.57 357.69 L400.60 357.70 L404.34 359.61 L405.90 360.40 L408.11 361.14 L411.88 362.39 L415.65 363.65 L416.40 363.90 L419.42 364.76 L423.19 365.83 L426.96 366.90 L428.70 367.40 L430.72 368.16 L434.49 369.57 L438.26 370.98 L442.03 372.39 L445.00 373.50 L445.80 373.69 L449.57 374.59 L453.34 375.48 L457.11 376.38 L460.88 377.28 L461.40 377.40 L464.65 378.61 L468.42 380.01 L472.19 381.41 L475.95 382.82 L479.72 384.22 L482.90 385.40 L483.49 385.70 L487.26 387.58 L491.03 389.47 L494.80 391.35 L498.57 393.23 L502.34 395.12 L504.30 396.10 L506.11 397.16 L509.88 399.38 L513.65 401.59 L517.42 403.80 L521.18 406.02 L521.50 406.20 L524.95 407.82 L528.72 409.59 L532.49 411.35 L534.30 412.20 L536.26 412.45 L540.03 412.93 L542.90 413.30 L543.80 413.30" stroke="#ff00ff" stroke-width="1.75" fill="none" stroke-linejoin="round" stroke-dasharray="5.5 1.6 2.7 1.9"/>
<path d="M42.30 417.10 L42.50 417.31 L45.60 420.50 L46.27 403.02 L46.40 399.60 L49.40 390.30 L50.04 389.33 L51.70 386.80 L53.81 385.49 L54.60 385.00 L57.50 383.90 L57.58 383.53 L59.30 375.10 L61.10 360.50 L61.35 360.18 L63.40 357.50 L65.12 355.34 L65.70 354.60 L68.10 351.10 L68.88 355.99 L71.00 369.20 L72.65 381.85 L73.30 386.80 L76.30 366.90 L76.42 366.31 L77.40 361.60 L80.19 367.65 L80.40 368.10 L83.96 350.92 L84.40 348.80 L86.80 358.70 L87.73 360.56 L91.50 368.10 L91.50 368.10 L95.00 351.70 L95.27 351.36 L97.30 348.80 L99.04 350.28 L100.00 351.10 L102.40 359.40 L102.81 358.85 L106.58 353.80 L107.10 353.10 L110.35 363.50 L111.00 365.60 L114.11 345.90 L115.00 340.30 L117.88 332.30 L118.10 331.70 L121.65 370.05 L122.00 373.80 L123.60 351.20 L125.42 336.39 L125.90 332.50 L129.19 342.37 L129.80 344.20 L132.96 338.96 L134.50 336.40 L136.73 339.24 L140.00 343.40 L140.50 342.11 L144.27 332.34 L145.40 329.40 L148.04 341.99 L148.50 344.20 L151.81 338.86 L152.40 337.90 L155.58 344.25 L156.30 345.70 L159.34 335.40 L160.20 332.50 L163.11 340.64 L164.10 343.40 L166.88 339.73 L168.80 337.20 L170.65 335.89 L174.30 333.30 L174.42 333.57 L178.19 341.84 L178.90 343.40 L181.96 338.84 L183.60 336.40 L185.00 334.20 L185.73 334.38 L188.30 335.00 L189.50 336.20 L192.40 339.10 L193.27 338.57 L196.50 336.60 L197.04 336.28 L200.50 334.20 L200.81 334.08 L204.57 332.61 L204.60 332.60 L208.34 336.95 L209.50 338.30 L212.11 337.22 L213.60 336.60 L215.88 335.71 L217.70 335.00 L219.65 334.24 L221.80 333.40 L223.42 333.66 L226.70 334.20 L227.19 334.30 L230.80 335.00 L230.96 334.89 L234.73 332.35 L235.70 331.70 L238.50 333.41 L239.80 334.20 L242.27 333.42 L243.90 332.90 L246.04 333.12 L248.80 333.40 L249.80 333.30 L253.57 332.91 L253.70 332.90 L257.34 333.27 L258.60 333.40 L261.11 333.80 L263.60 334.20 L264.88 334.12 L268.50 333.90 L268.65 333.93 L272.42 334.66 L274.20 335.00 L276.19 334.39 L276.50 334.30 L279.96 335.96 L281.50 336.70 L283.73 335.97 L286.40 335.10 L287.50 335.66 L291.27 337.58 L291.30 337.60 L295.03 336.91 L296.20 336.70 L298.80 337.70 L302.57 339.15 L302.70 339.20 L306.34 339.64 L309.30 340.00 L310.11 339.84 L313.88 339.11 L317.50 338.40 L317.65 338.46 L321.42 339.85 L324.00 340.80 L325.19 341.05 L328.96 341.83 L332.20 342.50 L332.73 342.65 L336.50 343.76 L340.26 344.86 L340.40 344.90 L344.03 346.02 L347.80 347.18 L348.50 347.40 L351.57 348.89 L355.10 350.60 L355.34 350.64 L359.11 351.34 L360.00 351.50 L362.88 352.91 L365.50 354.20 L366.65 354.63 L370.42 356.03 L372.50 356.80 L374.19 357.82 L377.96 360.09 L381.30 362.10 L381.73 362.27 L385.49 363.77 L389.26 365.27 L390.10 365.60 L393.03 367.37 L396.80 369.64 L398.90 370.90 L400.57 371.57 L404.34 373.09 L407.60 374.40 L408.11 374.65 L411.88 376.54 L415.65 378.42 L416.40 378.80 L419.42 379.88 L423.19 381.23 L426.96 382.58 L428.70 383.20 L430.72 383.73 L434.49 384.73 L438.26 385.72 L442.03 386.72 L445.00 387.50 L445.80 387.71 L449.57 388.70 L453.34 389.69 L457.11 390.67 L460.88 391.66 L461.40 391.80 L464.65 392.87 L468.42 394.12 L472.19 395.36 L475.95 396.61 L479.72 397.85 L482.90 398.90 L483.49 399.20 L487.26 401.09 L491.03 402.99 L494.80 404.89 L498.57 406.78 L500.00 407.50 L502.34 409.23 L506.11 412.02 L509.88 414.81 L513.65 417.60 L515.00 418.60 L517.42 419.99 L521.18 422.15 L524.95 424.31 L528.72 426.47 L530.00 427.20 L532.49 428.03 L536.26 429.29 L540.03 430.54 L542.90 431.50 L543.80 431.50" stroke="#00ffff" stroke-width="2.0" fill="none" stroke-linejoin="round"/>
<path d="M42.30 407.70 L42.50 406.92 L45.50 395.20 L46.27 390.39 L47.10 385.20 L49.50 361.80 L50.04 356.78 L51.00 347.80 L53.40 347.00 L53.81 345.87 L56.50 338.40 L57.30 325.90 L57.58 327.34 L58.80 333.70 L61.20 354.00 L61.35 354.08 L64.30 355.60 L65.12 351.17 L66.60 343.10 L68.20 324.40 L68.88 316.36 L69.00 315.00 L71.30 330.60 L72.65 330.04 L75.20 329.00 L76.42 325.70 L77.50 322.80 L80.19 333.05 L82.20 340.70 L83.96 340.05 L85.20 339.60 L87.73 342.78 L88.30 343.50 L91.50 358.30 L91.50 358.30 L94.60 336.50 L95.27 327.39 L95.40 325.60 L99.04 321.22 L99.30 320.90 L102.40 324.80 L102.81 324.60 L106.58 322.76 L107.10 322.50 L110.35 321.94 L111.70 321.70 L114.11 319.70 L116.40 317.80 L117.88 317.98 L118.90 318.10 L121.65 315.80 L124.40 313.50 L125.42 311.69 L127.50 308.00 L129.19 309.25 L130.60 310.30 L132.90 320.50 L132.96 320.52 L136.73 321.97 L136.80 322.00 L140.50 319.82 L140.70 319.70 L144.27 317.95 L145.40 317.40 L148.04 319.14 L150.10 320.50 L151.81 321.86 L154.00 323.60 L155.58 324.77 L157.10 325.90 L159.34 322.79 L161.00 320.50 L163.11 318.39 L164.10 317.40 L166.88 317.81 L168.80 318.10 L170.65 322.34 L171.90 325.20 L174.42 321.13 L175.80 318.90 L178.19 318.14 L180.50 317.40 L181.96 316.80 L184.40 315.80 L185.73 315.25 L188.30 314.20 L189.50 312.75 L190.70 311.30 L193.27 308.73 L196.50 305.50 L197.04 305.57 L200.81 306.10 L203.00 306.40 L204.57 306.78 L206.30 307.20 L208.34 307.40 L212.11 307.77 L214.50 308.00 L215.88 309.16 L219.40 312.10 L219.65 311.58 L222.60 305.50 L223.42 306.00 L226.70 308.00 L227.19 308.35 L230.96 311.01 L232.50 312.10 L234.10 308.00 L234.73 308.00 L238.50 308.00 L241.50 308.00 L242.27 307.70 L245.60 306.40 L246.04 306.98 L248.00 309.60 L249.80 309.40 L253.57 309.00 L255.40 308.80 L257.34 309.04 L261.11 309.50 L261.90 309.60 L264.88 310.01 L268.50 310.50 L268.65 310.52 L272.42 311.05 L274.20 311.30 L275.00 310.50 L276.19 310.21 L279.96 309.28 L281.50 308.90 L283.73 309.47 L287.50 310.42 L291.27 311.38 L294.50 312.20 L295.03 312.33 L298.80 313.24 L302.57 314.16 L304.40 314.60 L306.34 314.76 L310.11 315.07 L313.88 315.37 L314.20 315.40 L317.65 316.56 L321.42 317.83 L324.00 318.70 L325.19 318.78 L328.96 319.04 L332.73 319.31 L335.50 319.50 L336.50 319.92 L340.26 321.49 L344.03 323.07 L345.30 323.60 L347.80 324.32 L351.57 325.42 L355.34 326.51 L356.70 326.90 L359.11 327.96 L359.20 328.00 L362.88 330.54 L365.00 332.00 L366.65 332.82 L370.42 334.71 L374.19 336.59 L376.00 337.50 L377.96 338.48 L381.73 340.36 L385.49 342.25 L386.60 342.80 L389.26 344.25 L393.03 346.30 L396.80 348.35 L398.00 349.00 L400.57 349.94 L404.34 351.31 L407.60 352.50 L408.11 352.73 L411.88 354.40 L415.65 356.07 L417.30 356.80 L419.42 357.62 L423.19 359.07 L426.96 360.53 L428.70 361.20 L430.72 361.87 L434.49 363.13 L438.26 364.39 L441.00 365.30 L442.03 365.61 L445.80 366.74 L449.57 367.86 L453.34 368.99 L457.11 370.12 L460.88 371.24 L461.40 371.40 L464.65 372.70 L468.42 374.21 L472.19 375.71 L475.95 377.22 L479.72 378.73 L482.90 380.00 L483.49 380.30 L487.26 382.18 L491.03 384.07 L494.80 385.95 L498.57 387.83 L502.34 389.72 L504.30 390.70 L506.11 391.84 L509.88 394.20 L513.65 396.57 L517.42 398.94 L521.18 401.30 L521.50 401.50 L524.95 403.92 L528.72 406.56 L532.20 409.00 L532.49 409.13 L536.26 410.86 L540.03 412.59 L542.90 413.90 L543.80 413.90" stroke="#00f810" stroke-width="2.0" fill="none" stroke-linejoin="round" stroke-dasharray="6 5.5"/>
<path d="M42.30 414.00 L42.50 412.63 L45.60 391.40 L45.80 396.10 L46.27 392.14 L47.60 380.90 L49.40 365.70 L50.04 359.99 L51.10 350.50 L53.50 351.10 L53.81 350.08 L55.80 343.50 L57.58 336.10 L57.60 336.00 L58.70 347.00 L60.50 356.40 L61.35 358.09 L62.80 361.00 L65.10 356.40 L65.12 356.30 L66.90 344.70 L68.50 328.00 L68.88 329.09 L70.50 333.70 L72.65 339.67 L73.60 342.30 L76.00 336.80 L76.42 337.66 L79.10 343.10 L80.19 345.00 L82.20 348.50 L83.96 349.54 L84.40 349.80 L87.73 354.41 L88.30 355.20 L91.50 365.40 L91.50 365.40 L94.60 349.00 L95.27 340.67 L96.10 330.30 L99.04 331.68 L99.30 331.80 L102.81 339.53 L103.20 340.40 L106.58 329.58 L107.10 327.90 L110.35 332.48 L111.00 333.40 L114.11 329.65 L114.90 328.70 L117.88 327.58 L118.10 327.50 L121.65 324.68 L122.00 324.40 L125.42 318.87 L125.90 318.10 L129.19 319.45 L129.80 319.70 L132.90 333.00 L132.96 332.96 L136.73 330.64 L136.80 330.60 L140.50 331.36 L140.70 331.40 L144.27 329.30 L144.60 329.10 L148.04 330.42 L148.50 330.60 L151.81 331.96 L152.40 332.20 L155.58 334.07 L156.30 334.50 L159.34 330.28 L160.20 329.10 L163.11 327.90 L164.10 327.50 L166.88 328.64 L168.00 329.10 L170.65 333.04 L171.10 333.70 L174.42 329.10 L175.00 328.30 L178.19 328.95 L178.90 329.10 L181.96 327.02 L183.60 325.90 L185.00 326.00 L185.73 325.76 L189.50 324.53 L189.90 324.40 L193.27 321.69 L194.00 321.10 L197.04 316.59 L197.30 316.20 L200.50 314.50 L200.81 315.00 L203.00 318.60 L204.57 319.87 L207.10 321.90 L208.34 321.41 L211.20 320.30 L212.11 319.98 L215.88 318.68 L216.10 318.60 L219.65 321.46 L220.20 321.90 L223.42 319.31 L224.30 318.60 L227.19 319.80 L228.40 320.30 L230.96 320.30 L232.50 320.30 L234.73 319.12 L235.70 318.60 L238.50 315.89 L239.00 315.40 L242.27 320.25 L242.30 320.30 L246.04 317.29 L246.40 317.00 L249.60 321.10 L249.80 321.06 L253.57 320.32 L253.70 320.30 L257.34 319.64 L260.30 319.10 L261.11 319.25 L264.88 319.95 L266.80 320.30 L268.65 320.75 L272.42 321.66 L273.40 321.90 L276.19 323.43 L276.50 323.60 L279.96 320.76 L281.50 319.50 L283.73 320.63 L287.50 322.54 L288.00 322.80 L291.27 322.80 L295.03 322.80 L296.20 322.80 L298.80 323.59 L302.57 324.74 L304.40 325.30 L306.34 325.08 L310.11 324.67 L312.50 324.40 L313.88 324.82 L317.65 325.97 L320.70 326.90 L321.42 327.12 L325.19 328.27 L328.90 329.40 L328.96 329.40 L332.73 329.40 L335.50 329.40 L336.50 329.69 L340.26 330.81 L343.60 331.80 L344.03 331.97 L347.80 333.49 L351.57 335.01 L351.80 335.10 L355.34 336.18 L359.11 337.33 L360.00 337.60 L362.88 338.96 L365.50 340.20 L366.65 340.84 L370.42 342.94 L374.19 345.04 L377.96 347.14 L381.30 349.00 L381.73 349.24 L385.49 351.32 L389.26 353.41 L393.03 355.49 L395.40 356.80 L396.80 357.63 L400.57 359.85 L404.34 362.08 L405.90 363.00 L408.11 363.55 L411.88 364.48 L415.65 365.41 L416.40 365.60 L419.42 366.46 L423.19 367.53 L426.96 368.60 L428.70 369.10 L430.72 369.97 L434.49 371.59 L438.26 373.21 L442.03 374.83 L445.00 376.10 L445.80 376.27 L449.57 377.08 L453.34 377.88 L457.11 378.68 L460.88 379.49 L461.40 379.60 L464.65 380.79 L468.42 382.18 L472.19 383.56 L475.95 384.95 L479.72 386.33 L482.90 387.50 L483.49 387.83 L487.26 389.91 L491.03 391.98 L494.80 394.06 L498.57 396.14 L502.34 398.22 L504.30 399.30 L506.11 400.42 L509.88 402.77 L513.65 405.11 L517.42 407.46 L521.18 409.80 L521.50 410.00 L524.95 411.75 L528.72 413.67 L532.49 415.58 L534.30 416.50 L536.26 417.23 L540.03 418.63 L542.90 419.70 L543.80 419.70" stroke="#2b8ee0" stroke-width="1.9" fill="none" stroke-linejoin="round" stroke-dasharray="1.6 1.35"/>
</g>
<rect x="42.50" y="267.20" width="501.30" height="192.30" stroke="#9a9a9a" stroke-width="1" fill="none"/>
<rect x="162.20" y="272.60" width="378.30" height="12.90" fill="#fff" stroke="#8a8a8a" stroke-width="1"/>
<path d="M165.00 278.8h5M170.80 278.8h1.6M175.80 278.8h1.6M178.20 278.8H183.20" stroke="#ffff00" stroke-width="1.5"/>
<circle cx="174.10" cy="278.8" r="1.9" fill="#ffff00"/>
<text x="183.70" y="281.80" class="lg">1150/4</text>
<path d="M216.70 278.8h3.8M230.30 278.8H233.60" stroke="#ff0000" stroke-width="1"/>
<circle cx="225.15" cy="278.8" r="1.9" fill="#ff0000"/>
<text x="235.20" y="281.80" class="lg">1200/4</text>
<path d="M268.00 278.8H285.60" stroke="#0000ff" stroke-width="0.9" stroke-dasharray="1 1"/>
<circle cx="276.80" cy="278.8" r="1.6" fill="#0000ff"/>
<text x="287.20" y="281.80" class="lg">1250/4</text>
<path d="M319.60 278.8h4.5M326.10 278.8h4.5M332.60 278.8H337.00" stroke="#ff00ff" stroke-width="1.75"/>
<text x="337.20" y="281.80" class="lg">1300/4</text>
<path d="M370.60 278.8H388.00" stroke="#00ffff" stroke-width="2.0"/>
<text x="389.20" y="281.80" class="lg">1230/12</text>
<path d="M427.50 278.8H433.50M441.30 278.8H444.80" stroke="#00f810" stroke-width="2.0"/>
<text x="445.20" y="281.80" class="lg">1300/12</text>
<path d="M484.30 278.8H501.60" stroke="#2b8ee0" stroke-width="1.9" stroke-dasharray="1.6 1.35"/>
<text x="502.40" y="281.80" class="lg">1350/12</text>
<text x="38.30" y="462.60" text-anchor="end" class="tl">0.025</text>
<text x="38.30" y="424.14" text-anchor="end" class="tl">0.03</text>
<text x="38.30" y="385.68" text-anchor="end" class="tl">0.035</text>
<text x="38.30" y="347.22" text-anchor="end" class="tl">0.04</text>
<text x="38.30" y="308.76" text-anchor="end" class="tl">0.045</text>
<text x="35.70" y="477.80" class="tl">10<tspan class="ex" dx="0.6" dy="-5">5</tspan></text>
<text x="253.50" y="477.80" class="tl">10<tspan class="ex" dx="0.6" dy="-5">6</tspan></text>
<text x="471.30" y="477.80" class="tl">10<tspan class="ex" dx="0.6" dy="-5">7</tspan></text>
<text class="al" style="font-size:8.6px" transform="translate(13.1,363.2) rotate(-90)" text-anchor="middle">Loss tangent</text>
<text class="al" x="276.5" y="487.6" text-anchor="middle">Frequency [Hz]</text>
<text class="cap" x="277.3" y="504.7" text-anchor="middle"><tspan font-weight="normal">(</tspan>b<tspan font-weight="normal">)</tspan></text>
</g></svg></body></html>
